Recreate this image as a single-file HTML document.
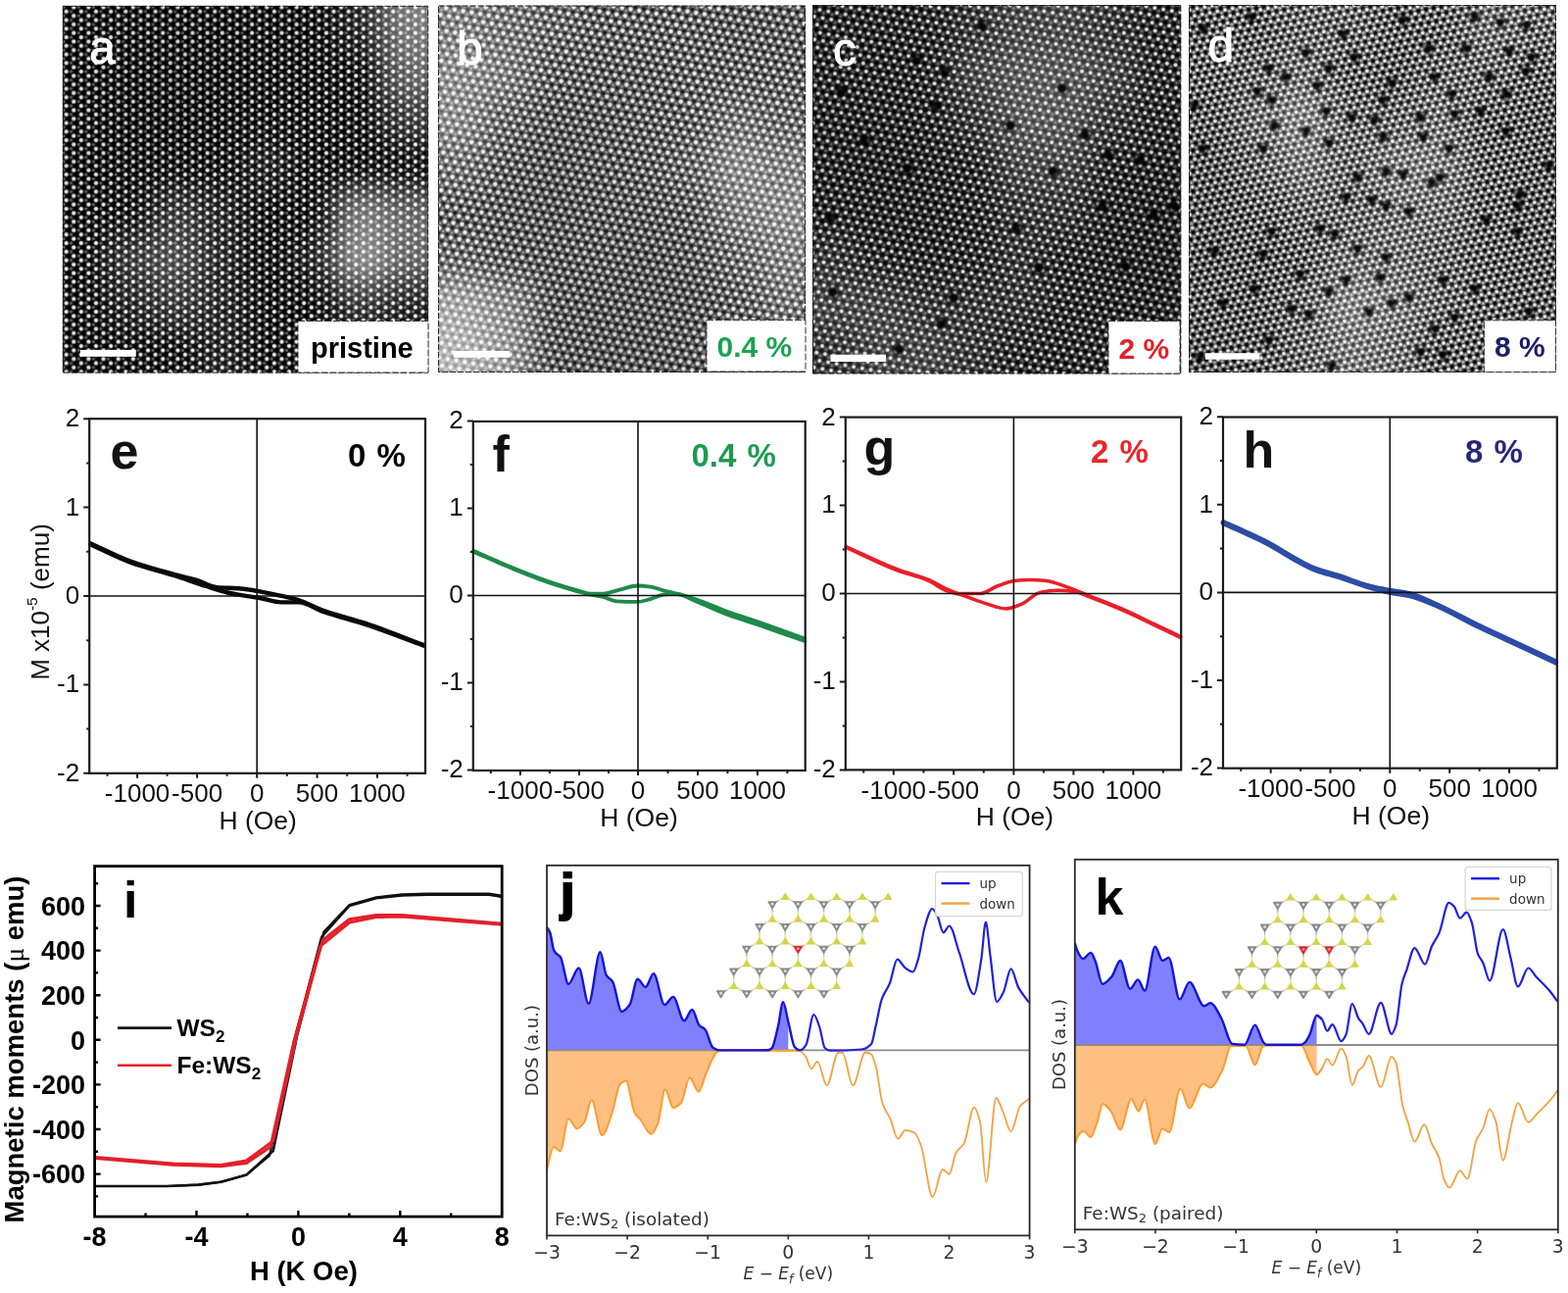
<!DOCTYPE html><html><head><meta charset="utf-8"><title>Fe:WS2 figure</title><style>html,body{margin:0;padding:0;background:#fff;overflow:hidden}svg{display:block}</style></head><body><svg width="1600" height="1319" viewBox="0 0 1600 1319"><defs><radialGradient id="gwa"><stop offset="0" stop-color="#ffffff"/><stop offset="0.45" stop-color="#ffffff" stop-opacity="0.95"/><stop offset="1" stop-color="#ffffff" stop-opacity="0"/></radialGradient><radialGradient id="gsa"><stop offset="0" stop-color="#6a6a6a"/><stop offset="0.4" stop-color="#6a6a6a" stop-opacity="0.9"/><stop offset="1" stop-color="#6a6a6a" stop-opacity="0"/></radialGradient><radialGradient id="gha"><stop offset="0" stop-color="#000"/><stop offset="0.5" stop-color="#000" stop-opacity="0.9"/><stop offset="1" stop-color="#000" stop-opacity="0"/></radialGradient><pattern id="lata" patternUnits="userSpaceOnUse" width="8.75" height="15.16" patternTransform="translate(7,3) rotate(90)"><rect width="8.75" height="15.16" fill="#0a0a0a"/><circle cx="0" cy="5.05" r="2.6" fill="url(#gha)"/><circle cx="8.75" cy="5.05" r="2.6" fill="url(#gha)"/><circle cx="4.38" cy="-2.53" r="2.6" fill="url(#gha)"/><circle cx="4.38" cy="12.63" r="2.6" fill="url(#gha)"/><circle cx="4.38" cy="2.53" r="2.2" fill="url(#gsa)"/><circle cx="0" cy="10.1" r="2.2" fill="url(#gsa)"/><circle cx="8.75" cy="10.1" r="2.2" fill="url(#gsa)"/><circle cx="0" cy="0" r="2.85" fill="url(#gwa)"/><circle cx="0" cy="15.16" r="2.85" fill="url(#gwa)"/><circle cx="8.75" cy="0" r="2.85" fill="url(#gwa)"/><circle cx="8.75" cy="15.16" r="2.85" fill="url(#gwa)"/><circle cx="4.38" cy="7.58" r="2.85" fill="url(#gwa)"/></pattern><clipPath id="clipa"><rect x="63.8" y="5.8" width="373.4" height="374.8"/></clipPath><radialGradient id="gwb"><stop offset="0" stop-color="#f8f8f8"/><stop offset="0.45" stop-color="#f8f8f8" stop-opacity="0.95"/><stop offset="1" stop-color="#f8f8f8" stop-opacity="0"/></radialGradient><radialGradient id="gsb"><stop offset="0" stop-color="#9a9a9a"/><stop offset="0.4" stop-color="#9a9a9a" stop-opacity="0.9"/><stop offset="1" stop-color="#9a9a9a" stop-opacity="0"/></radialGradient><radialGradient id="ghb"><stop offset="0" stop-color="#141414"/><stop offset="0.5" stop-color="#141414" stop-opacity="0.9"/><stop offset="1" stop-color="#141414" stop-opacity="0"/></radialGradient><pattern id="latb" patternUnits="userSpaceOnUse" width="8.85" height="15.33" patternTransform="translate(3,1) rotate(9.7)"><rect width="8.85" height="15.33" fill="#4c4c4c"/><circle cx="0" cy="5.11" r="2.4" fill="url(#ghb)"/><circle cx="8.85" cy="5.11" r="2.4" fill="url(#ghb)"/><circle cx="4.42" cy="12.77" r="2.4" fill="url(#ghb)"/><circle cx="4.42" cy="2.55" r="2.2" fill="url(#gsb)"/><circle cx="0" cy="10.22" r="2.2" fill="url(#gsb)"/><circle cx="8.85" cy="10.22" r="2.2" fill="url(#gsb)"/><circle cx="0" cy="0" r="3.1" fill="url(#gwb)"/><circle cx="0" cy="15.33" r="3.1" fill="url(#gwb)"/><circle cx="8.85" cy="0" r="3.1" fill="url(#gwb)"/><circle cx="8.85" cy="15.33" r="3.1" fill="url(#gwb)"/><circle cx="4.42" cy="7.66" r="3.1" fill="url(#gwb)"/></pattern><clipPath id="clipb"><rect x="447" y="5.5" width="375" height="374.5"/></clipPath><radialGradient id="gwc"><stop offset="0" stop-color="#f0f0f0"/><stop offset="0.45" stop-color="#f0f0f0" stop-opacity="0.95"/><stop offset="1" stop-color="#f0f0f0" stop-opacity="0"/></radialGradient><radialGradient id="gsc"><stop offset="0" stop-color="#6e6e6e"/><stop offset="0.4" stop-color="#6e6e6e" stop-opacity="0.9"/><stop offset="1" stop-color="#6e6e6e" stop-opacity="0"/></radialGradient><radialGradient id="ghc"><stop offset="0" stop-color="#000"/><stop offset="0.5" stop-color="#000" stop-opacity="0.9"/><stop offset="1" stop-color="#000" stop-opacity="0"/></radialGradient><pattern id="latc" patternUnits="userSpaceOnUse" width="8.85" height="15.33" patternTransform="translate(2,3) rotate(10)"><rect width="8.85" height="15.33" fill="#2e2e2e"/><circle cx="0" cy="5.11" r="3.1" fill="url(#ghc)"/><circle cx="8.85" cy="5.11" r="3.1" fill="url(#ghc)"/><circle cx="4.42" cy="-2.55" r="3.1" fill="url(#ghc)"/><circle cx="4.42" cy="12.77" r="3.1" fill="url(#ghc)"/><circle cx="4.42" cy="2.55" r="2" fill="url(#gsc)"/><circle cx="0" cy="10.22" r="2" fill="url(#gsc)"/><circle cx="8.85" cy="10.22" r="2" fill="url(#gsc)"/><circle cx="0" cy="0" r="2.6" fill="url(#gwc)"/><circle cx="0" cy="15.33" r="2.6" fill="url(#gwc)"/><circle cx="8.85" cy="0" r="2.6" fill="url(#gwc)"/><circle cx="8.85" cy="15.33" r="2.6" fill="url(#gwc)"/><circle cx="4.42" cy="7.66" r="2.6" fill="url(#gwc)"/></pattern><clipPath id="clipc"><rect x="829" y="5" width="376.3" height="376.5"/></clipPath><radialGradient id="gwd"><stop offset="0" stop-color="#ffffff"/><stop offset="0.45" stop-color="#ffffff" stop-opacity="0.95"/><stop offset="1" stop-color="#ffffff" stop-opacity="0"/></radialGradient><radialGradient id="gsd"><stop offset="0" stop-color="#bcbcbc"/><stop offset="0.4" stop-color="#bcbcbc" stop-opacity="0.9"/><stop offset="1" stop-color="#bcbcbc" stop-opacity="0"/></radialGradient><radialGradient id="ghd"><stop offset="0" stop-color="#000"/><stop offset="0.5" stop-color="#000" stop-opacity="0.9"/><stop offset="1" stop-color="#000" stop-opacity="0"/></radialGradient><pattern id="latd" patternUnits="userSpaceOnUse" width="7.9" height="13.68" patternTransform="translate(1,2) rotate(-11)"><rect width="7.9" height="13.68" fill="#5a5a5a"/><circle cx="0" cy="4.56" r="2.8" fill="url(#ghd)"/><circle cx="7.9" cy="4.56" r="2.8" fill="url(#ghd)"/><circle cx="3.95" cy="-2.28" r="2.8" fill="url(#ghd)"/><circle cx="3.95" cy="11.4" r="2.8" fill="url(#ghd)"/><circle cx="3.95" cy="2.28" r="2.1" fill="url(#gsd)"/><circle cx="0" cy="9.12" r="2.1" fill="url(#gsd)"/><circle cx="7.9" cy="9.12" r="2.1" fill="url(#gsd)"/><circle cx="0" cy="0" r="2.5" fill="url(#gwd)"/><circle cx="0" cy="13.68" r="2.5" fill="url(#gwd)"/><circle cx="7.9" cy="0" r="2.5" fill="url(#gwd)"/><circle cx="7.9" cy="13.68" r="2.5" fill="url(#gwd)"/><circle cx="3.95" cy="6.84" r="2.5" fill="url(#gwd)"/></pattern><clipPath id="clipd"><rect x="1213" y="5" width="375" height="375"/></clipPath><filter id="bl22" x="-20%" y="-20%" width="140%" height="140%"><feGaussianBlur stdDeviation="15"/></filter><filter id="bl2" x="-50%" y="-50%" width="200%" height="200%"><feGaussianBlur stdDeviation="1.4"/></filter><filter id="bl3" x="-50%" y="-50%" width="200%" height="200%"><feGaussianBlur stdDeviation="2.6"/></filter></defs><rect width="1600" height="1319" fill="#fff"/><g clip-path="url(#clipa)"><rect x="63.8" y="5.8" width="373.4" height="374.8" fill="url(#lata)"/><g fill="#000" filter="url(#bl22)"><rect x="-29.55" y="-87.9" width="47.17" height="47.35" fill-opacity="0.06"/><rect x="17.12" y="-87.9" width="47.17" height="47.35" fill-opacity="0.06"/><rect x="63.8" y="-87.9" width="47.17" height="47.35" fill-opacity="0.06"/><rect x="110.47" y="-87.9" width="47.17" height="47.35" fill-opacity="0.11"/><rect x="157.15" y="-87.9" width="47.17" height="47.35" fill-opacity="0.11"/><rect x="203.82" y="-87.9" width="47.17" height="47.35" fill-opacity="0.11"/><rect x="250.5" y="-87.9" width="47.17" height="47.35" fill-opacity="0.08"/><rect x="297.18" y="-87.9" width="47.17" height="47.35" fill-opacity="0.06"/><rect x="-29.55" y="-41.05" width="47.17" height="47.35" fill-opacity="0.06"/><rect x="17.12" y="-41.05" width="47.17" height="47.35" fill-opacity="0.06"/><rect x="63.8" y="-41.05" width="47.17" height="47.35" fill-opacity="0.06"/><rect x="110.47" y="-41.05" width="47.17" height="47.35" fill-opacity="0.11"/><rect x="157.15" y="-41.05" width="47.17" height="47.35" fill-opacity="0.11"/><rect x="203.82" y="-41.05" width="47.17" height="47.35" fill-opacity="0.11"/><rect x="250.5" y="-41.05" width="47.17" height="47.35" fill-opacity="0.08"/><rect x="297.18" y="-41.05" width="47.17" height="47.35" fill-opacity="0.06"/><rect x="-29.55" y="5.8" width="47.17" height="47.35" fill-opacity="0.06"/><rect x="17.12" y="5.8" width="47.17" height="47.35" fill-opacity="0.06"/><rect x="63.8" y="5.8" width="47.17" height="47.35" fill-opacity="0.06"/><rect x="110.47" y="5.8" width="47.17" height="47.35" fill-opacity="0.11"/><rect x="157.15" y="5.8" width="47.17" height="47.35" fill-opacity="0.11"/><rect x="203.82" y="5.8" width="47.17" height="47.35" fill-opacity="0.11"/><rect x="250.5" y="5.8" width="47.17" height="47.35" fill-opacity="0.08"/><rect x="297.18" y="5.8" width="47.17" height="47.35" fill-opacity="0.06"/><rect x="-29.55" y="52.65" width="47.17" height="47.35" fill-opacity="0.06"/><rect x="17.12" y="52.65" width="47.17" height="47.35" fill-opacity="0.06"/><rect x="63.8" y="52.65" width="47.17" height="47.35" fill-opacity="0.06"/><rect x="110.47" y="52.65" width="47.17" height="47.35" fill-opacity="0.14"/><rect x="157.15" y="52.65" width="47.17" height="47.35" fill-opacity="0.14"/><rect x="203.82" y="52.65" width="47.17" height="47.35" fill-opacity="0.14"/><rect x="250.5" y="52.65" width="47.17" height="47.35" fill-opacity="0.08"/><rect x="297.18" y="52.65" width="47.17" height="47.35" fill-opacity="0.06"/><rect x="-29.55" y="99.5" width="47.17" height="47.35" fill-opacity="0.06"/><rect x="17.12" y="99.5" width="47.17" height="47.35" fill-opacity="0.06"/><rect x="63.8" y="99.5" width="47.17" height="47.35" fill-opacity="0.06"/><rect x="110.47" y="99.5" width="47.17" height="47.35" fill-opacity="0.14"/><rect x="157.15" y="99.5" width="47.17" height="47.35" fill-opacity="0.17"/><rect x="203.82" y="99.5" width="47.17" height="47.35" fill-opacity="0.11"/><rect x="250.5" y="99.5" width="47.17" height="47.35" fill-opacity="0.03"/><rect x="343.85" y="99.5" width="47.17" height="47.35" fill-opacity="0.03"/><rect x="-29.55" y="146.35" width="47.17" height="47.35" fill-opacity="0.08"/><rect x="17.12" y="146.35" width="47.17" height="47.35" fill-opacity="0.08"/><rect x="63.8" y="146.35" width="47.17" height="47.35" fill-opacity="0.08"/><rect x="110.47" y="146.35" width="47.17" height="47.35" fill-opacity="0.11"/><rect x="157.15" y="146.35" width="47.17" height="47.35" fill-opacity="0.08"/><rect x="203.82" y="146.35" width="47.17" height="47.35" fill-opacity="0.03"/><rect x="297.18" y="146.35" width="47.17" height="47.35" fill-opacity="0.03"/><rect x="343.85" y="146.35" width="47.17" height="47.35" fill-opacity="0.06"/><rect x="-29.55" y="193.2" width="47.17" height="47.35" fill-opacity="0.03"/><rect x="17.12" y="193.2" width="47.17" height="47.35" fill-opacity="0.03"/><rect x="63.8" y="193.2" width="47.17" height="47.35" fill-opacity="0.03"/><rect x="250.5" y="193.2" width="47.17" height="47.35" fill-opacity="0.03"/><rect x="250.5" y="240.05" width="47.17" height="47.35" fill-opacity="0.06"/><rect x="-29.55" y="286.9" width="47.17" height="47.35" fill-opacity="0.03"/><rect x="17.12" y="286.9" width="47.17" height="47.35" fill-opacity="0.03"/><rect x="63.8" y="286.9" width="47.17" height="47.35" fill-opacity="0.03"/><rect x="250.5" y="286.9" width="47.17" height="47.35" fill-opacity="0.03"/><rect x="297.18" y="286.9" width="47.17" height="47.35" fill-opacity="0.03"/><rect x="-29.55" y="333.75" width="47.17" height="47.35" fill-opacity="0.06"/><rect x="17.12" y="333.75" width="47.17" height="47.35" fill-opacity="0.06"/><rect x="63.8" y="333.75" width="47.17" height="47.35" fill-opacity="0.06"/><rect x="110.47" y="333.75" width="47.17" height="47.35" fill-opacity="0.03"/><rect x="-29.55" y="380.6" width="47.17" height="47.35" fill-opacity="0.06"/><rect x="17.12" y="380.6" width="47.17" height="47.35" fill-opacity="0.06"/><rect x="63.8" y="380.6" width="47.17" height="47.35" fill-opacity="0.06"/><rect x="110.47" y="380.6" width="47.17" height="47.35" fill-opacity="0.03"/><rect x="-29.55" y="427.45" width="47.17" height="47.35" fill-opacity="0.06"/><rect x="17.12" y="427.45" width="47.17" height="47.35" fill-opacity="0.06"/><rect x="63.8" y="427.45" width="47.17" height="47.35" fill-opacity="0.06"/><rect x="110.47" y="427.45" width="47.17" height="47.35" fill-opacity="0.03"/></g><g fill="#fff" filter="url(#bl22)"><rect x="343.85" y="-87.9" width="47.17" height="47.35" fill-opacity="0.09"/><rect x="390.52" y="-87.9" width="47.17" height="47.35" fill-opacity="0.45"/><rect x="437.2" y="-87.9" width="47.17" height="47.35" fill-opacity="0.45"/><rect x="483.88" y="-87.9" width="47.17" height="47.35" fill-opacity="0.45"/><rect x="343.85" y="-41.05" width="47.17" height="47.35" fill-opacity="0.09"/><rect x="390.52" y="-41.05" width="47.17" height="47.35" fill-opacity="0.45"/><rect x="437.2" y="-41.05" width="47.17" height="47.35" fill-opacity="0.45"/><rect x="483.88" y="-41.05" width="47.17" height="47.35" fill-opacity="0.45"/><rect x="343.85" y="5.8" width="47.17" height="47.35" fill-opacity="0.09"/><rect x="390.52" y="5.8" width="47.17" height="47.35" fill-opacity="0.45"/><rect x="437.2" y="5.8" width="47.17" height="47.35" fill-opacity="0.45"/><rect x="483.88" y="5.8" width="47.17" height="47.35" fill-opacity="0.45"/><rect x="390.52" y="52.65" width="47.17" height="47.35" fill-opacity="0.36"/><rect x="437.2" y="52.65" width="47.17" height="47.35" fill-opacity="0.36"/><rect x="483.88" y="52.65" width="47.17" height="47.35" fill-opacity="0.36"/><rect x="390.52" y="99.5" width="47.17" height="47.35" fill-opacity="0.18"/><rect x="437.2" y="99.5" width="47.17" height="47.35" fill-opacity="0.18"/><rect x="483.88" y="99.5" width="47.17" height="47.35" fill-opacity="0.18"/><rect x="250.5" y="146.35" width="47.17" height="47.35" fill-opacity="0.09"/><rect x="157.15" y="193.2" width="47.17" height="47.35" fill-opacity="0.18"/><rect x="203.82" y="193.2" width="47.17" height="47.35" fill-opacity="0.09"/><rect x="343.85" y="193.2" width="47.17" height="47.35" fill-opacity="0.45"/><rect x="390.52" y="193.2" width="47.17" height="47.35" fill-opacity="0.36"/><rect x="437.2" y="193.2" width="47.17" height="47.35" fill-opacity="0.36"/><rect x="483.88" y="193.2" width="47.17" height="47.35" fill-opacity="0.36"/><rect x="110.47" y="240.05" width="47.17" height="47.35" fill-opacity="0.18"/><rect x="157.15" y="240.05" width="47.17" height="47.35" fill-opacity="0.27"/><rect x="203.82" y="240.05" width="47.17" height="47.35" fill-opacity="0.09"/><rect x="297.18" y="240.05" width="47.17" height="47.35" fill-opacity="0.09"/><rect x="343.85" y="240.05" width="47.17" height="47.35" fill-opacity="0.54"/><rect x="390.52" y="240.05" width="47.17" height="47.35" fill-opacity="0.36"/><rect x="437.2" y="240.05" width="47.17" height="47.35" fill-opacity="0.36"/><rect x="483.88" y="240.05" width="47.17" height="47.35" fill-opacity="0.36"/><rect x="110.47" y="286.9" width="47.17" height="47.35" fill-opacity="0.09"/><rect x="157.15" y="286.9" width="47.17" height="47.35" fill-opacity="0.18"/><rect x="203.82" y="286.9" width="47.17" height="47.35" fill-opacity="0.09"/><rect x="343.85" y="286.9" width="47.17" height="47.35" fill-opacity="0.18"/><rect x="390.52" y="286.9" width="47.17" height="47.35" fill-opacity="0.09"/><rect x="437.2" y="286.9" width="47.17" height="47.35" fill-opacity="0.09"/><rect x="483.88" y="286.9" width="47.17" height="47.35" fill-opacity="0.09"/><rect x="203.82" y="333.75" width="47.17" height="47.35" fill-opacity="0.09"/><rect x="203.82" y="380.6" width="47.17" height="47.35" fill-opacity="0.09"/><rect x="203.82" y="427.45" width="47.17" height="47.35" fill-opacity="0.09"/></g></g><rect x="64.3" y="6.3" width="372.4" height="373.8" fill="none" stroke="#222" stroke-width="1" stroke-dasharray="6 2"/><g clip-path="url(#clipb)"><rect x="447" y="5.5" width="375" height="374.5" fill="url(#latb)"/><g fill="#000" filter="url(#bl22)"><rect x="728.25" y="-88.12" width="47.38" height="47.31" fill-opacity="0.04"/><rect x="775.12" y="-88.12" width="47.38" height="47.31" fill-opacity="0.04"/><rect x="822" y="-88.12" width="47.38" height="47.31" fill-opacity="0.04"/><rect x="868.88" y="-88.12" width="47.38" height="47.31" fill-opacity="0.04"/><rect x="728.25" y="-41.31" width="47.38" height="47.31" fill-opacity="0.04"/><rect x="775.12" y="-41.31" width="47.38" height="47.31" fill-opacity="0.04"/><rect x="822" y="-41.31" width="47.38" height="47.31" fill-opacity="0.04"/><rect x="868.88" y="-41.31" width="47.38" height="47.31" fill-opacity="0.04"/><rect x="728.25" y="5.5" width="47.38" height="47.31" fill-opacity="0.04"/><rect x="775.12" y="5.5" width="47.38" height="47.31" fill-opacity="0.04"/><rect x="822" y="5.5" width="47.38" height="47.31" fill-opacity="0.04"/><rect x="868.88" y="5.5" width="47.38" height="47.31" fill-opacity="0.04"/><rect x="587.62" y="52.31" width="47.38" height="47.31" fill-opacity="0.04"/><rect x="634.5" y="52.31" width="47.38" height="47.31" fill-opacity="0.04"/><rect x="540.75" y="99.12" width="47.38" height="47.31" fill-opacity="0.08"/><rect x="587.62" y="99.12" width="47.38" height="47.31" fill-opacity="0.08"/><rect x="634.5" y="99.12" width="47.38" height="47.31" fill-opacity="0.04"/><rect x="493.88" y="145.94" width="47.38" height="47.31" fill-opacity="0.04"/><rect x="540.75" y="145.94" width="47.38" height="47.31" fill-opacity="0.12"/><rect x="587.62" y="145.94" width="47.38" height="47.31" fill-opacity="0.08"/><rect x="634.5" y="145.94" width="47.38" height="47.31" fill-opacity="0.04"/><rect x="493.88" y="192.75" width="47.38" height="47.31" fill-opacity="0.08"/><rect x="540.75" y="192.75" width="47.38" height="47.31" fill-opacity="0.12"/><rect x="587.62" y="192.75" width="47.38" height="47.31" fill-opacity="0.08"/><rect x="634.5" y="192.75" width="47.38" height="47.31" fill-opacity="0.08"/><rect x="681.38" y="192.75" width="47.38" height="47.31" fill-opacity="0.04"/><rect x="493.88" y="239.56" width="47.38" height="47.31" fill-opacity="0.04"/><rect x="540.75" y="239.56" width="47.38" height="47.31" fill-opacity="0.08"/><rect x="587.62" y="239.56" width="47.38" height="47.31" fill-opacity="0.08"/><rect x="634.5" y="239.56" width="47.38" height="47.31" fill-opacity="0.12"/><rect x="681.38" y="239.56" width="47.38" height="47.31" fill-opacity="0.08"/><rect x="540.75" y="286.38" width="47.38" height="47.31" fill-opacity="0.08"/><rect x="587.62" y="286.38" width="47.38" height="47.31" fill-opacity="0.12"/><rect x="634.5" y="286.38" width="47.38" height="47.31" fill-opacity="0.12"/><rect x="681.38" y="286.38" width="47.38" height="47.31" fill-opacity="0.12"/><rect x="540.75" y="333.19" width="47.38" height="47.31" fill-opacity="0.08"/><rect x="587.62" y="333.19" width="47.38" height="47.31" fill-opacity="0.12"/><rect x="634.5" y="333.19" width="47.38" height="47.31" fill-opacity="0.12"/><rect x="681.38" y="333.19" width="47.38" height="47.31" fill-opacity="0.08"/><rect x="540.75" y="380" width="47.38" height="47.31" fill-opacity="0.08"/><rect x="587.62" y="380" width="47.38" height="47.31" fill-opacity="0.12"/><rect x="634.5" y="380" width="47.38" height="47.31" fill-opacity="0.12"/><rect x="681.38" y="380" width="47.38" height="47.31" fill-opacity="0.08"/><rect x="540.75" y="426.81" width="47.38" height="47.31" fill-opacity="0.08"/><rect x="587.62" y="426.81" width="47.38" height="47.31" fill-opacity="0.12"/><rect x="634.5" y="426.81" width="47.38" height="47.31" fill-opacity="0.12"/><rect x="681.38" y="426.81" width="47.38" height="47.31" fill-opacity="0.08"/></g><g fill="#fff" filter="url(#bl22)"><rect x="353.25" y="-88.12" width="47.38" height="47.31" fill-opacity="0.24"/><rect x="400.12" y="-88.12" width="47.38" height="47.31" fill-opacity="0.24"/><rect x="447" y="-88.12" width="47.38" height="47.31" fill-opacity="0.24"/><rect x="493.88" y="-88.12" width="47.38" height="47.31" fill-opacity="0.16"/><rect x="540.75" y="-88.12" width="47.38" height="47.31" fill-opacity="0.08"/><rect x="353.25" y="-41.31" width="47.38" height="47.31" fill-opacity="0.24"/><rect x="400.12" y="-41.31" width="47.38" height="47.31" fill-opacity="0.24"/><rect x="447" y="-41.31" width="47.38" height="47.31" fill-opacity="0.24"/><rect x="493.88" y="-41.31" width="47.38" height="47.31" fill-opacity="0.16"/><rect x="540.75" y="-41.31" width="47.38" height="47.31" fill-opacity="0.08"/><rect x="353.25" y="5.5" width="47.38" height="47.31" fill-opacity="0.24"/><rect x="400.12" y="5.5" width="47.38" height="47.31" fill-opacity="0.24"/><rect x="447" y="5.5" width="47.38" height="47.31" fill-opacity="0.24"/><rect x="493.88" y="5.5" width="47.38" height="47.31" fill-opacity="0.16"/><rect x="540.75" y="5.5" width="47.38" height="47.31" fill-opacity="0.08"/><rect x="353.25" y="52.31" width="47.38" height="47.31" fill-opacity="0.32"/><rect x="400.12" y="52.31" width="47.38" height="47.31" fill-opacity="0.32"/><rect x="447" y="52.31" width="47.38" height="47.31" fill-opacity="0.32"/><rect x="493.88" y="52.31" width="47.38" height="47.31" fill-opacity="0.24"/><rect x="353.25" y="99.12" width="47.38" height="47.31" fill-opacity="0.32"/><rect x="400.12" y="99.12" width="47.38" height="47.31" fill-opacity="0.32"/><rect x="447" y="99.12" width="47.38" height="47.31" fill-opacity="0.32"/><rect x="493.88" y="99.12" width="47.38" height="47.31" fill-opacity="0.08"/><rect x="728.25" y="99.12" width="47.38" height="47.31" fill-opacity="0.16"/><rect x="775.12" y="99.12" width="47.38" height="47.31" fill-opacity="0.08"/><rect x="822" y="99.12" width="47.38" height="47.31" fill-opacity="0.08"/><rect x="868.88" y="99.12" width="47.38" height="47.31" fill-opacity="0.08"/><rect x="353.25" y="145.94" width="47.38" height="47.31" fill-opacity="0.16"/><rect x="400.12" y="145.94" width="47.38" height="47.31" fill-opacity="0.16"/><rect x="447" y="145.94" width="47.38" height="47.31" fill-opacity="0.16"/><rect x="681.38" y="145.94" width="47.38" height="47.31" fill-opacity="0.08"/><rect x="728.25" y="145.94" width="47.38" height="47.31" fill-opacity="0.32"/><rect x="775.12" y="145.94" width="47.38" height="47.31" fill-opacity="0.24"/><rect x="822" y="145.94" width="47.38" height="47.31" fill-opacity="0.24"/><rect x="868.88" y="145.94" width="47.38" height="47.31" fill-opacity="0.24"/><rect x="728.25" y="192.75" width="47.38" height="47.31" fill-opacity="0.24"/><rect x="775.12" y="192.75" width="47.38" height="47.31" fill-opacity="0.32"/><rect x="822" y="192.75" width="47.38" height="47.31" fill-opacity="0.32"/><rect x="868.88" y="192.75" width="47.38" height="47.31" fill-opacity="0.32"/><rect x="353.25" y="239.56" width="47.38" height="47.31" fill-opacity="0.08"/><rect x="400.12" y="239.56" width="47.38" height="47.31" fill-opacity="0.08"/><rect x="447" y="239.56" width="47.38" height="47.31" fill-opacity="0.08"/><rect x="728.25" y="239.56" width="47.38" height="47.31" fill-opacity="0.08"/><rect x="775.12" y="239.56" width="47.38" height="47.31" fill-opacity="0.24"/><rect x="822" y="239.56" width="47.38" height="47.31" fill-opacity="0.24"/><rect x="868.88" y="239.56" width="47.38" height="47.31" fill-opacity="0.24"/><rect x="353.25" y="286.38" width="47.38" height="47.31" fill-opacity="0.48"/><rect x="400.12" y="286.38" width="47.38" height="47.31" fill-opacity="0.48"/><rect x="447" y="286.38" width="47.38" height="47.31" fill-opacity="0.48"/><rect x="493.88" y="286.38" width="47.38" height="47.31" fill-opacity="0.32"/><rect x="775.12" y="286.38" width="47.38" height="47.31" fill-opacity="0.16"/><rect x="822" y="286.38" width="47.38" height="47.31" fill-opacity="0.16"/><rect x="868.88" y="286.38" width="47.38" height="47.31" fill-opacity="0.16"/><rect x="353.25" y="333.19" width="47.38" height="47.31" fill-opacity="0.56"/><rect x="400.12" y="333.19" width="47.38" height="47.31" fill-opacity="0.56"/><rect x="447" y="333.19" width="47.38" height="47.31" fill-opacity="0.56"/><rect x="493.88" y="333.19" width="47.38" height="47.31" fill-opacity="0.4"/><rect x="353.25" y="380" width="47.38" height="47.31" fill-opacity="0.56"/><rect x="400.12" y="380" width="47.38" height="47.31" fill-opacity="0.56"/><rect x="447" y="380" width="47.38" height="47.31" fill-opacity="0.56"/><rect x="493.88" y="380" width="47.38" height="47.31" fill-opacity="0.4"/><rect x="353.25" y="426.81" width="47.38" height="47.31" fill-opacity="0.56"/><rect x="400.12" y="426.81" width="47.38" height="47.31" fill-opacity="0.56"/><rect x="447" y="426.81" width="47.38" height="47.31" fill-opacity="0.56"/><rect x="493.88" y="426.81" width="47.38" height="47.31" fill-opacity="0.4"/></g></g><rect x="447.5" y="6" width="374" height="373.5" fill="none" stroke="#222" stroke-width="1" stroke-dasharray="6 2"/><g clip-path="url(#clipc)"><rect x="829" y="5" width="376.3" height="376.5" fill="url(#latc)"/><g fill="#000" filter="url(#bl22)"><rect x="734.92" y="-89.12" width="47.54" height="47.56" fill-opacity="0.05"/><rect x="781.96" y="-89.12" width="47.54" height="47.56" fill-opacity="0.05"/><rect x="829" y="-89.12" width="47.54" height="47.56" fill-opacity="0.05"/><rect x="876.04" y="-89.12" width="47.54" height="47.56" fill-opacity="0.05"/><rect x="734.92" y="-42.06" width="47.54" height="47.56" fill-opacity="0.05"/><rect x="781.96" y="-42.06" width="47.54" height="47.56" fill-opacity="0.05"/><rect x="829" y="-42.06" width="47.54" height="47.56" fill-opacity="0.05"/><rect x="876.04" y="-42.06" width="47.54" height="47.56" fill-opacity="0.05"/><rect x="734.92" y="5" width="47.54" height="47.56" fill-opacity="0.05"/><rect x="781.96" y="5" width="47.54" height="47.56" fill-opacity="0.05"/><rect x="829" y="5" width="47.54" height="47.56" fill-opacity="0.05"/><rect x="876.04" y="5" width="47.54" height="47.56" fill-opacity="0.05"/><rect x="734.92" y="52.06" width="47.54" height="47.56" fill-opacity="0.05"/><rect x="781.96" y="52.06" width="47.54" height="47.56" fill-opacity="0.05"/><rect x="829" y="52.06" width="47.54" height="47.56" fill-opacity="0.05"/><rect x="876.04" y="52.06" width="47.54" height="47.56" fill-opacity="0.05"/><rect x="734.92" y="99.12" width="47.54" height="47.56" fill-opacity="0.1"/><rect x="781.96" y="99.12" width="47.54" height="47.56" fill-opacity="0.1"/><rect x="829" y="99.12" width="47.54" height="47.56" fill-opacity="0.1"/><rect x="876.04" y="99.12" width="47.54" height="47.56" fill-opacity="0.1"/><rect x="923.08" y="99.12" width="47.54" height="47.56" fill-opacity="0.05"/><rect x="734.92" y="146.19" width="47.54" height="47.56" fill-opacity="0.1"/><rect x="781.96" y="146.19" width="47.54" height="47.56" fill-opacity="0.1"/><rect x="829" y="146.19" width="47.54" height="47.56" fill-opacity="0.1"/><rect x="876.04" y="146.19" width="47.54" height="47.56" fill-opacity="0.15"/><rect x="923.08" y="146.19" width="47.54" height="47.56" fill-opacity="0.1"/><rect x="1158.26" y="146.19" width="47.54" height="47.56" fill-opacity="0.1"/><rect x="1205.3" y="146.19" width="47.54" height="47.56" fill-opacity="0.1"/><rect x="1252.34" y="146.19" width="47.54" height="47.56" fill-opacity="0.1"/><rect x="734.92" y="193.25" width="47.54" height="47.56" fill-opacity="0.05"/><rect x="781.96" y="193.25" width="47.54" height="47.56" fill-opacity="0.05"/><rect x="829" y="193.25" width="47.54" height="47.56" fill-opacity="0.05"/><rect x="876.04" y="193.25" width="47.54" height="47.56" fill-opacity="0.1"/><rect x="923.08" y="193.25" width="47.54" height="47.56" fill-opacity="0.1"/><rect x="1111.22" y="193.25" width="47.54" height="47.56" fill-opacity="0.1"/><rect x="1158.26" y="193.25" width="47.54" height="47.56" fill-opacity="0.15"/><rect x="1205.3" y="193.25" width="47.54" height="47.56" fill-opacity="0.15"/><rect x="1252.34" y="193.25" width="47.54" height="47.56" fill-opacity="0.15"/><rect x="923.08" y="240.31" width="47.54" height="47.56" fill-opacity="0.05"/><rect x="1111.22" y="240.31" width="47.54" height="47.56" fill-opacity="0.1"/><rect x="1158.26" y="240.31" width="47.54" height="47.56" fill-opacity="0.15"/><rect x="1205.3" y="240.31" width="47.54" height="47.56" fill-opacity="0.15"/><rect x="1252.34" y="240.31" width="47.54" height="47.56" fill-opacity="0.15"/><rect x="1111.22" y="287.38" width="47.54" height="47.56" fill-opacity="0.05"/><rect x="1158.26" y="287.38" width="47.54" height="47.56" fill-opacity="0.1"/><rect x="1205.3" y="287.38" width="47.54" height="47.56" fill-opacity="0.1"/><rect x="1252.34" y="287.38" width="47.54" height="47.56" fill-opacity="0.1"/></g><g fill="#fff" filter="url(#bl22)"><rect x="970.11" y="-89.12" width="47.54" height="47.56" fill-opacity="0.08"/><rect x="1017.15" y="-89.12" width="47.54" height="47.56" fill-opacity="0.16"/><rect x="1064.19" y="-89.12" width="47.54" height="47.56" fill-opacity="0.16"/><rect x="1111.22" y="-89.12" width="47.54" height="47.56" fill-opacity="0.08"/><rect x="970.11" y="-42.06" width="47.54" height="47.56" fill-opacity="0.08"/><rect x="1017.15" y="-42.06" width="47.54" height="47.56" fill-opacity="0.16"/><rect x="1064.19" y="-42.06" width="47.54" height="47.56" fill-opacity="0.16"/><rect x="1111.22" y="-42.06" width="47.54" height="47.56" fill-opacity="0.08"/><rect x="970.11" y="5" width="47.54" height="47.56" fill-opacity="0.08"/><rect x="1017.15" y="5" width="47.54" height="47.56" fill-opacity="0.16"/><rect x="1064.19" y="5" width="47.54" height="47.56" fill-opacity="0.16"/><rect x="1111.22" y="5" width="47.54" height="47.56" fill-opacity="0.08"/><rect x="970.11" y="52.06" width="47.54" height="47.56" fill-opacity="0.16"/><rect x="1017.15" y="52.06" width="47.54" height="47.56" fill-opacity="0.24"/><rect x="1064.19" y="52.06" width="47.54" height="47.56" fill-opacity="0.24"/><rect x="1111.22" y="52.06" width="47.54" height="47.56" fill-opacity="0.16"/><rect x="970.11" y="99.12" width="47.54" height="47.56" fill-opacity="0.08"/><rect x="1017.15" y="99.12" width="47.54" height="47.56" fill-opacity="0.24"/><rect x="1064.19" y="99.12" width="47.54" height="47.56" fill-opacity="0.24"/><rect x="1111.22" y="99.12" width="47.54" height="47.56" fill-opacity="0.08"/><rect x="1017.15" y="146.19" width="47.54" height="47.56" fill-opacity="0.16"/><rect x="1064.19" y="146.19" width="47.54" height="47.56" fill-opacity="0.16"/><rect x="1017.15" y="193.25" width="47.54" height="47.56" fill-opacity="0.08"/><rect x="1064.19" y="193.25" width="47.54" height="47.56" fill-opacity="0.08"/><rect x="734.92" y="240.31" width="47.54" height="47.56" fill-opacity="0.08"/><rect x="781.96" y="240.31" width="47.54" height="47.56" fill-opacity="0.08"/><rect x="829" y="240.31" width="47.54" height="47.56" fill-opacity="0.08"/><rect x="1017.15" y="240.31" width="47.54" height="47.56" fill-opacity="0.08"/><rect x="734.92" y="287.38" width="47.54" height="47.56" fill-opacity="0.16"/><rect x="781.96" y="287.38" width="47.54" height="47.56" fill-opacity="0.16"/><rect x="829" y="287.38" width="47.54" height="47.56" fill-opacity="0.16"/><rect x="876.04" y="287.38" width="47.54" height="47.56" fill-opacity="0.16"/><rect x="923.08" y="287.38" width="47.54" height="47.56" fill-opacity="0.08"/><rect x="970.11" y="287.38" width="47.54" height="47.56" fill-opacity="0.08"/><rect x="1017.15" y="287.38" width="47.54" height="47.56" fill-opacity="0.08"/><rect x="734.92" y="334.44" width="47.54" height="47.56" fill-opacity="0.08"/><rect x="781.96" y="334.44" width="47.54" height="47.56" fill-opacity="0.08"/><rect x="829" y="334.44" width="47.54" height="47.56" fill-opacity="0.08"/><rect x="876.04" y="334.44" width="47.54" height="47.56" fill-opacity="0.16"/><rect x="923.08" y="334.44" width="47.54" height="47.56" fill-opacity="0.16"/><rect x="970.11" y="334.44" width="47.54" height="47.56" fill-opacity="0.08"/><rect x="734.92" y="381.5" width="47.54" height="47.56" fill-opacity="0.08"/><rect x="781.96" y="381.5" width="47.54" height="47.56" fill-opacity="0.08"/><rect x="829" y="381.5" width="47.54" height="47.56" fill-opacity="0.08"/><rect x="876.04" y="381.5" width="47.54" height="47.56" fill-opacity="0.16"/><rect x="923.08" y="381.5" width="47.54" height="47.56" fill-opacity="0.16"/><rect x="970.11" y="381.5" width="47.54" height="47.56" fill-opacity="0.08"/><rect x="734.92" y="428.56" width="47.54" height="47.56" fill-opacity="0.08"/><rect x="781.96" y="428.56" width="47.54" height="47.56" fill-opacity="0.08"/><rect x="829" y="428.56" width="47.54" height="47.56" fill-opacity="0.08"/><rect x="876.04" y="428.56" width="47.54" height="47.56" fill-opacity="0.16"/><rect x="923.08" y="428.56" width="47.54" height="47.56" fill-opacity="0.16"/><rect x="970.11" y="428.56" width="47.54" height="47.56" fill-opacity="0.08"/></g><g fill="#000" fill-opacity="0.92" filter="url(#bl2)"><circle cx="1002" cy="26" r="5.2"/><circle cx="964" cy="73" r="5.2"/><circle cx="935" cy="61" r="5.2"/><circle cx="859" cy="93" r="5.2"/><circle cx="955" cy="108" r="5.2"/><circle cx="882" cy="143" r="5.2"/><circle cx="1031" cy="128" r="5.2"/><circle cx="1084" cy="90" r="5.2"/><circle cx="1107" cy="137" r="5.2"/><circle cx="1131" cy="158" r="5.2"/><circle cx="1163" cy="163" r="5.2"/><circle cx="1075" cy="175" r="5.2"/><circle cx="926" cy="172" r="5.2"/><circle cx="847" cy="222" r="5.2"/><circle cx="1037" cy="233" r="5.2"/><circle cx="1060" cy="273" r="5.2"/><circle cx="1125" cy="210" r="5.2"/><circle cx="1177" cy="219" r="5.2"/><circle cx="1148" cy="271" r="5.2"/><circle cx="973" cy="304" r="5.2"/><circle cx="961" cy="330" r="5.2"/><circle cx="850" cy="298" r="5.2"/><circle cx="917" cy="356" r="5.2"/><circle cx="1198" cy="210" r="5.2"/></g></g><rect x="829.5" y="5.5" width="375.3" height="375.5" fill="none" stroke="#222" stroke-width="1" stroke-dasharray="6 2"/><g clip-path="url(#clipd)"><rect x="1213" y="5" width="375" height="375" fill="url(#latd)"/><g fill="#000" filter="url(#bl22)"><rect x="1119.25" y="-88.75" width="47.38" height="47.38" fill-opacity="0.04"/><rect x="1166.12" y="-88.75" width="47.38" height="47.38" fill-opacity="0.04"/><rect x="1213" y="-88.75" width="47.38" height="47.38" fill-opacity="0.04"/><rect x="1119.25" y="-41.88" width="47.38" height="47.38" fill-opacity="0.04"/><rect x="1166.12" y="-41.88" width="47.38" height="47.38" fill-opacity="0.04"/><rect x="1213" y="-41.88" width="47.38" height="47.38" fill-opacity="0.04"/><rect x="1119.25" y="5" width="47.38" height="47.38" fill-opacity="0.04"/><rect x="1166.12" y="5" width="47.38" height="47.38" fill-opacity="0.04"/><rect x="1213" y="5" width="47.38" height="47.38" fill-opacity="0.04"/><rect x="1400.5" y="51.88" width="47.38" height="47.38" fill-opacity="0.04"/><rect x="1119.25" y="98.75" width="47.38" height="47.38" fill-opacity="0.04"/><rect x="1166.12" y="98.75" width="47.38" height="47.38" fill-opacity="0.04"/><rect x="1213" y="98.75" width="47.38" height="47.38" fill-opacity="0.04"/><rect x="1541.12" y="98.75" width="47.38" height="47.38" fill-opacity="0.04"/><rect x="1588" y="98.75" width="47.38" height="47.38" fill-opacity="0.04"/><rect x="1634.88" y="98.75" width="47.38" height="47.38" fill-opacity="0.04"/><rect x="1119.25" y="145.62" width="47.38" height="47.38" fill-opacity="0.08"/><rect x="1166.12" y="145.62" width="47.38" height="47.38" fill-opacity="0.08"/><rect x="1213" y="145.62" width="47.38" height="47.38" fill-opacity="0.08"/><rect x="1541.12" y="145.62" width="47.38" height="47.38" fill-opacity="0.04"/><rect x="1588" y="145.62" width="47.38" height="47.38" fill-opacity="0.04"/><rect x="1634.88" y="145.62" width="47.38" height="47.38" fill-opacity="0.04"/><rect x="1119.25" y="192.5" width="47.38" height="47.38" fill-opacity="0.08"/><rect x="1166.12" y="192.5" width="47.38" height="47.38" fill-opacity="0.08"/><rect x="1213" y="192.5" width="47.38" height="47.38" fill-opacity="0.08"/><rect x="1541.12" y="192.5" width="47.38" height="47.38" fill-opacity="0.04"/><rect x="1588" y="192.5" width="47.38" height="47.38" fill-opacity="0.04"/><rect x="1634.88" y="192.5" width="47.38" height="47.38" fill-opacity="0.04"/><rect x="1119.25" y="239.38" width="47.38" height="47.38" fill-opacity="0.08"/><rect x="1166.12" y="239.38" width="47.38" height="47.38" fill-opacity="0.08"/><rect x="1213" y="239.38" width="47.38" height="47.38" fill-opacity="0.08"/><rect x="1259.88" y="239.38" width="47.38" height="47.38" fill-opacity="0.04"/><rect x="1541.12" y="239.38" width="47.38" height="47.38" fill-opacity="0.04"/><rect x="1588" y="239.38" width="47.38" height="47.38" fill-opacity="0.04"/><rect x="1634.88" y="239.38" width="47.38" height="47.38" fill-opacity="0.04"/><rect x="1119.25" y="286.25" width="47.38" height="47.38" fill-opacity="0.04"/><rect x="1166.12" y="286.25" width="47.38" height="47.38" fill-opacity="0.04"/><rect x="1213" y="286.25" width="47.38" height="47.38" fill-opacity="0.04"/><rect x="1259.88" y="286.25" width="47.38" height="47.38" fill-opacity="0.04"/><rect x="1541.12" y="286.25" width="47.38" height="47.38" fill-opacity="0.04"/><rect x="1588" y="286.25" width="47.38" height="47.38" fill-opacity="0.04"/><rect x="1634.88" y="286.25" width="47.38" height="47.38" fill-opacity="0.04"/><rect x="1119.25" y="333.12" width="47.38" height="47.38" fill-opacity="0.08"/><rect x="1166.12" y="333.12" width="47.38" height="47.38" fill-opacity="0.08"/><rect x="1213" y="333.12" width="47.38" height="47.38" fill-opacity="0.08"/><rect x="1259.88" y="333.12" width="47.38" height="47.38" fill-opacity="0.04"/><rect x="1119.25" y="380" width="47.38" height="47.38" fill-opacity="0.08"/><rect x="1166.12" y="380" width="47.38" height="47.38" fill-opacity="0.08"/><rect x="1213" y="380" width="47.38" height="47.38" fill-opacity="0.08"/><rect x="1259.88" y="380" width="47.38" height="47.38" fill-opacity="0.04"/><rect x="1119.25" y="426.88" width="47.38" height="47.38" fill-opacity="0.08"/><rect x="1166.12" y="426.88" width="47.38" height="47.38" fill-opacity="0.08"/><rect x="1213" y="426.88" width="47.38" height="47.38" fill-opacity="0.08"/><rect x="1259.88" y="426.88" width="47.38" height="47.38" fill-opacity="0.04"/></g><g fill="#fff" filter="url(#bl22)"><rect x="1306.75" y="-88.75" width="47.38" height="47.38" fill-opacity="0.08"/><rect x="1353.62" y="-88.75" width="47.38" height="47.38" fill-opacity="0.08"/><rect x="1494.25" y="-88.75" width="47.38" height="47.38" fill-opacity="0.16"/><rect x="1541.12" y="-88.75" width="47.38" height="47.38" fill-opacity="0.08"/><rect x="1588" y="-88.75" width="47.38" height="47.38" fill-opacity="0.08"/><rect x="1634.88" y="-88.75" width="47.38" height="47.38" fill-opacity="0.08"/><rect x="1306.75" y="-41.88" width="47.38" height="47.38" fill-opacity="0.08"/><rect x="1353.62" y="-41.88" width="47.38" height="47.38" fill-opacity="0.08"/><rect x="1494.25" y="-41.88" width="47.38" height="47.38" fill-opacity="0.16"/><rect x="1541.12" y="-41.88" width="47.38" height="47.38" fill-opacity="0.08"/><rect x="1588" y="-41.88" width="47.38" height="47.38" fill-opacity="0.08"/><rect x="1634.88" y="-41.88" width="47.38" height="47.38" fill-opacity="0.08"/><rect x="1306.75" y="5" width="47.38" height="47.38" fill-opacity="0.08"/><rect x="1353.62" y="5" width="47.38" height="47.38" fill-opacity="0.08"/><rect x="1494.25" y="5" width="47.38" height="47.38" fill-opacity="0.16"/><rect x="1541.12" y="5" width="47.38" height="47.38" fill-opacity="0.08"/><rect x="1588" y="5" width="47.38" height="47.38" fill-opacity="0.08"/><rect x="1634.88" y="5" width="47.38" height="47.38" fill-opacity="0.08"/><rect x="1259.88" y="51.88" width="47.38" height="47.38" fill-opacity="0.08"/><rect x="1306.75" y="51.88" width="47.38" height="47.38" fill-opacity="0.16"/><rect x="1447.38" y="51.88" width="47.38" height="47.38" fill-opacity="0.08"/><rect x="1494.25" y="51.88" width="47.38" height="47.38" fill-opacity="0.08"/><rect x="1259.88" y="98.75" width="47.38" height="47.38" fill-opacity="0.16"/><rect x="1306.75" y="98.75" width="47.38" height="47.38" fill-opacity="0.32"/><rect x="1353.62" y="98.75" width="47.38" height="47.38" fill-opacity="0.08"/><rect x="1400.5" y="98.75" width="47.38" height="47.38" fill-opacity="0.08"/><rect x="1447.38" y="98.75" width="47.38" height="47.38" fill-opacity="0.16"/><rect x="1259.88" y="145.62" width="47.38" height="47.38" fill-opacity="0.08"/><rect x="1306.75" y="145.62" width="47.38" height="47.38" fill-opacity="0.24"/><rect x="1353.62" y="145.62" width="47.38" height="47.38" fill-opacity="0.08"/><rect x="1400.5" y="145.62" width="47.38" height="47.38" fill-opacity="0.24"/><rect x="1447.38" y="145.62" width="47.38" height="47.38" fill-opacity="0.24"/><rect x="1306.75" y="192.5" width="47.38" height="47.38" fill-opacity="0.08"/><rect x="1353.62" y="192.5" width="47.38" height="47.38" fill-opacity="0.08"/><rect x="1400.5" y="192.5" width="47.38" height="47.38" fill-opacity="0.16"/><rect x="1447.38" y="192.5" width="47.38" height="47.38" fill-opacity="0.16"/><rect x="1353.62" y="239.38" width="47.38" height="47.38" fill-opacity="0.16"/><rect x="1400.5" y="239.38" width="47.38" height="47.38" fill-opacity="0.16"/><rect x="1447.38" y="239.38" width="47.38" height="47.38" fill-opacity="0.08"/><rect x="1306.75" y="286.25" width="47.38" height="47.38" fill-opacity="0.08"/><rect x="1353.62" y="286.25" width="47.38" height="47.38" fill-opacity="0.32"/><rect x="1400.5" y="286.25" width="47.38" height="47.38" fill-opacity="0.24"/><rect x="1447.38" y="286.25" width="47.38" height="47.38" fill-opacity="0.08"/><rect x="1306.75" y="333.12" width="47.38" height="47.38" fill-opacity="0.08"/><rect x="1353.62" y="333.12" width="47.38" height="47.38" fill-opacity="0.24"/><rect x="1400.5" y="333.12" width="47.38" height="47.38" fill-opacity="0.16"/><rect x="1306.75" y="380" width="47.38" height="47.38" fill-opacity="0.08"/><rect x="1353.62" y="380" width="47.38" height="47.38" fill-opacity="0.24"/><rect x="1400.5" y="380" width="47.38" height="47.38" fill-opacity="0.16"/><rect x="1306.75" y="426.88" width="47.38" height="47.38" fill-opacity="0.08"/><rect x="1353.62" y="426.88" width="47.38" height="47.38" fill-opacity="0.24"/><rect x="1400.5" y="426.88" width="47.38" height="47.38" fill-opacity="0.16"/></g><g fill="#000" fill-opacity="0.95" filter="url(#bl2)"><path d="M1221.01,25.19 h13 l-6.5,11z"/><path d="M1270.63,13.51 h13 l-6.5,11z"/><path d="M1364.04,31.03 h13 l-6.5,11z"/><path d="M1425.33,16.43 h13 l-6.5,11z"/><path d="M1498.3,13.51 h13 l-6.5,11z"/><path d="M1524.57,19.35 h13 l-6.5,11z"/><path d="M1550.84,22.27 h13 l-6.5,11z"/><path d="M1451.6,45.62 h13 l-6.5,11z"/><path d="M1489.55,45.62 h13 l-6.5,11z"/><path d="M1533.33,48.54 h13 l-6.5,11z"/><path d="M1556.68,54.38 h13 l-6.5,11z"/><path d="M1326.09,50 h13 l-6.5,11z"/><path d="M1375.71,54.38 h13 l-6.5,11z"/><path d="M1288.15,66.05 h13 l-6.5,11z"/><path d="M1349.44,66.05 h13 l-6.5,11z"/><path d="M1305.66,74.81 h13 l-6.5,11z"/><path d="M1413.66,80.65 h13 l-6.5,11z"/><path d="M1457.44,74.81 h13 l-6.5,11z"/><path d="M1512.9,74.81 h13 l-6.5,11z"/><path d="M1550.84,68.97 h13 l-6.5,11z"/><path d="M1276.47,89.4 h13 l-6.5,11z"/><path d="M1337.77,83.57 h13 l-6.5,11z"/><path d="M1404.9,98.16 h13 l-6.5,11z"/><path d="M1474.95,92.32 h13 l-6.5,11z"/><path d="M1530.41,92.32 h13 l-6.5,11z"/><path d="M1212.26,104 h13 l-6.5,11z"/><path d="M1291.07,98.16 h13 l-6.5,11z"/><path d="M1346.52,109.84 h13 l-6.5,11z"/><path d="M1372.79,115.67 h13 l-6.5,11z"/><path d="M1396.14,118.59 h13 l-6.5,11z"/><path d="M1442.85,115.67 h13 l-6.5,11z"/><path d="M1477.87,112.75 h13 l-6.5,11z"/><path d="M1504.14,109.84 h13 l-6.5,11z"/><path d="M1293.98,124.43 h13 l-6.5,11z"/><path d="M1326.09,130.27 h13 l-6.5,11z"/><path d="M1404.9,136.11 h13 l-6.5,11z"/><path d="M1445.77,136.11 h13 l-6.5,11z"/><path d="M1530.41,130.27 h13 l-6.5,11z"/><path d="M1282.31,147.78 h13 l-6.5,11z"/><path d="M1349.44,141.94 h13 l-6.5,11z"/><path d="M1472.03,147.78 h13 l-6.5,11z"/><path d="M1221.01,147.78 h13 l-6.5,11z"/><path d="M1574.19,165.29 h13 l-6.5,11z"/><path d="M1407.82,171.13 h13 l-6.5,11z"/><path d="M1425.33,174.05 h13 l-6.5,11z"/><path d="M1378.63,176.97 h13 l-6.5,11z"/><path d="M1454.52,182.81 h13 l-6.5,11z"/><path d="M1463.28,176.97 h13 l-6.5,11z"/><path d="M1366.96,197.4 h13 l-6.5,11z"/><path d="M1393.23,200.32 h13 l-6.5,11z"/><path d="M1407.82,206.16 h13 l-6.5,11z"/><path d="M1545.01,194.48 h13 l-6.5,11z"/><path d="M1542.09,206.16 h13 l-6.5,11z"/><path d="M1340.69,229.51 h13 l-6.5,11z"/><path d="M1355.28,235.35 h13 l-6.5,11z"/><path d="M1431.17,212 h13 l-6.5,11z"/><path d="M1509.98,220.75 h13 l-6.5,11z"/><path d="M1542.09,232.43 h13 l-6.5,11z"/><path d="M1291.07,232.43 h13 l-6.5,11z"/><path d="M1232.69,252.86 h13 l-6.5,11z"/><path d="M1282.31,255.78 h13 l-6.5,11z"/><path d="M1378.63,249.94 h13 l-6.5,11z"/><path d="M1407.82,258.7 h13 l-6.5,11z"/><path d="M1320.25,276.21 h13 l-6.5,11z"/><path d="M1366.96,282.05 h13 l-6.5,11z"/><path d="M1401.98,279.13 h13 l-6.5,11z"/><path d="M1466.2,282.05 h13 l-6.5,11z"/><path d="M1498.3,290.8 h13 l-6.5,11z"/><path d="M1273.55,290.8 h13 l-6.5,11z"/><path d="M1241.45,305.4 h13 l-6.5,11z"/><path d="M1349.44,293.72 h13 l-6.5,11z"/><path d="M1329.01,317.07 h13 l-6.5,11z"/><path d="M1390.31,314.16 h13 l-6.5,11z"/><path d="M1413.66,305.4 h13 l-6.5,11z"/><path d="M1431.17,299.56 h13 l-6.5,11z"/><path d="M1477.87,319.99 h13 l-6.5,11z"/><path d="M1457.44,331.67 h13 l-6.5,11z"/><path d="M1311.5,311.24 h13 l-6.5,11z"/><path d="M1288.15,343.34 h13 l-6.5,11z"/><path d="M1466.2,357.94 h13 l-6.5,11z"/><path d="M1442.85,355.02 h13 l-6.5,11z"/><path d="M1352.36,369.61 h13 l-6.5,11z"/><path d="M1218.09,360.86 h13 l-6.5,11z"/><path d="M1553.76,314.16 h13 l-6.5,11z"/></g></g><rect x="1213.5" y="5.5" width="374" height="374" fill="none" stroke="#222" stroke-width="1" stroke-dasharray="6 2"/><rect x="81.9" y="356.9" width="56.9" height="6.9" fill="#fff"/><rect x="462.9" y="358" width="57.1" height="6.7" fill="#fff"/><rect x="847.4" y="361.7" width="56.6" height="7.3" fill="#fff"/><rect x="1229.9" y="360.2" width="55.4" height="6.5" fill="#fff"/><rect x="304" y="327.5" width="133" height="52.5" fill="#fff" stroke="#333" stroke-width="1" stroke-dasharray="7 2"/><text x="317" y="364.5" font-family="'Liberation Sans', Arial, sans-serif" font-weight="bold" font-size="29" fill="#000">pristine</text><rect x="721" y="326.6" width="101" height="52.4" fill="#fff" stroke="#333" stroke-width="1" stroke-dasharray="7 2"/><text x="731.5" y="363.5" font-family="'Liberation Sans', Arial, sans-serif" font-weight="bold" font-size="30" fill="#1aa352">0.4 %</text><rect x="1131" y="327.6" width="73" height="53.4" fill="#fff" stroke="#333" stroke-width="1" stroke-dasharray="7 2"/><text x="1141.5" y="365.5" font-family="'Liberation Sans', Arial, sans-serif" font-weight="bold" font-size="30" fill="#e3202a">2 %</text><rect x="1514.4" y="326.8" width="73.1" height="52.7" fill="#fff" stroke="#333" stroke-width="1" stroke-dasharray="7 2"/><text x="1525" y="363.5" font-family="'Liberation Sans', Arial, sans-serif" font-weight="bold" font-size="30" fill="#1d1d68">8 %</text><text x="91" y="64.5" font-family="'Liberation Sans', Arial, sans-serif" font-size="48" fill="#fff" stroke="#fff" stroke-width="0.8">a</text><text x="466" y="65.5" font-family="'Liberation Sans', Arial, sans-serif" font-size="48" fill="#fff" stroke="#fff" stroke-width="0.8">b</text><text x="850" y="66.5" font-family="'Liberation Sans', Arial, sans-serif" font-size="48" fill="#fff" stroke="#fff" stroke-width="0.8">c</text><text x="1232.5" y="62.5" font-family="'Liberation Sans', Arial, sans-serif" font-size="48" fill="#fff" stroke="#fff" stroke-width="0.8">d</text><g font-family="'Liberation Sans', Arial, sans-serif" fill="#111"><path d="M92.2,554.2C106.07,560.4 119.93,567.82 133.8,572.8C148.37,578.04 162.93,581.96 177.5,585.9C184.8,587.88 192.1,589.26 199.4,591.4C206.7,593.54 214,598.46 221.3,599.1C228.57,599.74 235.83,599.66 243.1,600.2C250.4,600.75 257.7,602.16 265,603.4C272.3,604.64 279.6,606.16 286.9,607.8C292.73,609.11 298.57,610.4 304.4,612.2C313.13,614.89 321.87,620.01 330.6,623.1C345.2,628.27 359.8,631.44 374.4,636.3C393.73,642.73 413.07,650.83 432.4,658.1" fill="none" stroke="#0a0a0a" stroke-width="4.4" stroke-linejoin="round" stroke-linecap="round"/><path d="M92.2,555.3C106.07,561.5 119.93,568.92 133.8,573.9C148.37,579.14 162.93,582.38 177.5,587C188.43,590.47 199.37,594.57 210.3,598C217.6,600.29 224.9,602.78 232.2,604.5C235.83,605.35 239.47,606.06 243.1,606.7C250.4,607.98 257.7,608.74 265,610C272.3,611.26 279.6,614.4 286.9,614.4C292.73,614.4 298.57,614.4 304.4,614.4C313.13,614.4 321.87,621.26 330.6,624.2C345.2,629.12 359.8,632.6 374.4,637.4C393.73,643.76 413.07,651.53 432.4,658.6" fill="none" stroke="#0a0a0a" stroke-width="4.4" stroke-linejoin="round" stroke-linecap="round"/><path d="M262.2,427.2 V788.8 M91.2,608 H434" stroke="#111" stroke-width="1.6" fill="none"/><rect x="91.2" y="427.2" width="342.8" height="361.6" fill="none" stroke="#1a1a1a" stroke-width="2.2"/><path d="M91.2,788.8 h-6 M91.2,743.6 h-3 M91.2,698.4 h-6 M91.2,653.2 h-3 M91.2,608 h-6 M91.2,562.8 h-3 M91.2,517.6 h-6 M91.2,472.4 h-3 M91.2,427.2 h-6 M109.52,788.8 v3 M140.06,788.8 v5 M170.59,788.8 v3 M201.13,788.8 v5 M231.66,788.8 v3 M262.2,788.8 v5 M292.88,788.8 v3 M323.56,788.8 v5 M354.24,788.8 v3 M384.91,788.8 v5 M415.59,788.8 v3" stroke="#1a1a1a" stroke-width="2" fill="none"/><text x="81.2" y="435.1" text-anchor="end" font-size="26">2</text><text x="81.2" y="525.5" text-anchor="end" font-size="26">1</text><text x="81.2" y="615.9" text-anchor="end" font-size="26">0</text><text x="81.2" y="706.3" text-anchor="end" font-size="26">-1</text><text x="81.2" y="796.7" text-anchor="end" font-size="26">-2</text><text x="140.06" y="818.2" text-anchor="middle" font-size="26">-1000</text><text x="201.13" y="818.2" text-anchor="middle" font-size="26">-500</text><text x="262.2" y="818.2" text-anchor="middle" font-size="26">0</text><text x="323.56" y="818.2" text-anchor="middle" font-size="26">500</text><text x="384.91" y="818.2" text-anchor="middle" font-size="26">1000</text><text x="263.2" y="845.8" text-anchor="middle" font-size="26.5">H (Oe)</text><text x="112.5" y="477.8" font-size="52" font-weight="bold">e</text><text x="355" y="475.5" font-size="33" font-weight="bold" word-spacing="2" fill="#000">0 %</text></g><g font-family="'Liberation Sans', Arial, sans-serif" fill="#111"><path d="M483.3,561.9C496.8,567.73 510.3,573.97 523.8,579.4C538.37,585.26 552.93,591.03 567.5,595.8C574.8,598.19 582.1,600.32 589.4,602.3C593.77,603.48 598.13,605.6 602.5,605.6C606.87,605.6 611.23,605.6 615.6,605.6C621.43,605.6 627.27,602.64 633.1,601.3C638.93,599.96 644.77,597.5 650.6,597.5C655,597.5 659.4,598.03 663.8,598.6C668.17,599.16 672.53,601.14 676.9,602.3C681.27,603.46 685.63,604.44 690,605.6C696.57,607.35 703.13,609.07 709.7,611.2C720.63,614.75 731.57,620.06 742.5,624C753.43,627.94 764.37,631.22 775.3,635C790.63,640.31 805.97,646 821.3,651.5" fill="none" stroke="#1e8a4c" stroke-width="3.8" stroke-linejoin="round" stroke-linecap="round"/><path d="M483.3,562.9C496.8,568.73 510.3,574.97 523.8,580.4C538.37,586.26 552.93,592.03 567.5,596.8C574.8,599.19 582.1,601.32 589.4,603.3C593.77,604.48 598.13,605.7 602.5,606.6C606.87,607.5 611.23,607.9 615.6,608.9C620,609.91 624.4,613.06 628.8,613.3C636.07,613.7 643.33,613.9 650.6,613.9C655,613.9 659.4,612.24 663.8,611.1C668.17,609.96 672.53,607.29 676.9,606.7C681.27,606.11 685.63,605.6 690,605.6C696.57,605.6 703.13,610.57 709.7,613.2C720.63,617.58 731.57,622.92 742.5,627C753.43,631.08 764.37,634.27 775.3,638C790.63,643.23 805.97,648.67 821.3,654" fill="none" stroke="#1e8a4c" stroke-width="3.8" stroke-linejoin="round" stroke-linecap="round"/><path d="M651,429.9 V786 M482.8,607.5 H821.7" stroke="#111" stroke-width="1.6" fill="none"/><rect x="482.8" y="429.9" width="338.9" height="356.1" fill="none" stroke="#1a1a1a" stroke-width="2.2"/><path d="M482.8,785.55 h-6 M482.8,741.04 h-3 M482.8,696.52 h-6 M482.8,652.01 h-3 M482.8,607.5 h-6 M482.8,562.99 h-3 M482.8,518.48 h-6 M482.8,473.96 h-3 M482.8,429.45 h-6 M500.82,786 v3 M530.86,786 v5 M560.89,786 v3 M590.93,786 v5 M620.96,786 v3 M651,786 v5 M681.48,786 v3 M711.96,786 v5 M742.45,786 v3 M772.93,786 v5 M803.41,786 v3" stroke="#1a1a1a" stroke-width="2" fill="none"/><text x="472.8" y="437.35" text-anchor="end" font-size="26">2</text><text x="472.8" y="526.38" text-anchor="end" font-size="26">1</text><text x="472.8" y="615.4" text-anchor="end" font-size="26">0</text><text x="472.8" y="704.42" text-anchor="end" font-size="26">-1</text><text x="472.8" y="793.45" text-anchor="end" font-size="26">-2</text><text x="530.86" y="815.4" text-anchor="middle" font-size="26">-1000</text><text x="590.93" y="815.4" text-anchor="middle" font-size="26">-500</text><text x="651" y="815.4" text-anchor="middle" font-size="26">0</text><text x="711.96" y="815.4" text-anchor="middle" font-size="26">500</text><text x="772.93" y="815.4" text-anchor="middle" font-size="26">1000</text><text x="652" y="843" text-anchor="middle" font-size="26.5">H (Oe)</text><text x="502.5" y="481" font-size="52" font-weight="bold">f</text><text x="705.5" y="476" font-size="33" font-weight="bold" word-spacing="2" fill="#1f9a50">0.4 %</text></g><g font-family="'Liberation Sans', Arial, sans-serif" fill="#111"><path d="M863.3,557.5C880.43,565.17 897.57,574.04 914.7,580.5C925.63,584.63 936.57,586.91 947.5,591.4C953.33,593.8 959.17,597.91 965,600.3C970.1,602.39 975.2,605.6 980.3,605.6C986.87,605.6 993.43,605.6 1000,605.6C1005.83,605.6 1011.67,600.13 1017.5,598C1023.33,595.87 1029.17,593.17 1035,592.5C1040.1,591.91 1045.2,591.4 1050.3,591.4C1056.13,591.4 1061.97,591.91 1067.8,592.5C1075.1,593.24 1082.4,596.6 1089.7,599.1C1097,601.6 1104.3,604.89 1111.6,607.8C1122.53,612.15 1133.47,616.18 1144.4,620.9C1155.33,625.62 1166.27,631.12 1177.2,636.3C1186.33,640.63 1195.47,645.03 1204.6,649.4" fill="none" stroke="#e8202a" stroke-width="3.5" stroke-linejoin="round" stroke-linecap="round"/><path d="M863.3,558.5C880.43,566.17 897.57,575.04 914.7,581.5C925.63,585.63 936.57,587.7 947.5,592.4C953.33,594.91 959.17,600.09 965,602.3C970.1,604.23 975.2,605.1 980.3,606.7C987.6,609 994.9,612.17 1002.2,614.4C1010.23,616.86 1018.27,620.9 1026.3,620.9C1031.4,620.9 1036.5,618.54 1041.6,616.6C1048.17,614.11 1054.73,605.85 1061.3,604.5C1067.13,603.3 1072.97,602.3 1078.8,602.3C1084.63,602.3 1090.47,602.77 1096.3,603.4C1101.4,603.95 1106.5,606.9 1111.6,608.8C1122.53,612.87 1133.47,617.18 1144.4,621.9C1155.33,626.62 1166.27,632.12 1177.2,637.3C1186.33,641.63 1195.47,646.03 1204.6,650.4" fill="none" stroke="#e8202a" stroke-width="3.5" stroke-linejoin="round" stroke-linecap="round"/><path d="M1034.4,425.6 V785.4 M862.8,605.5 H1205.2" stroke="#111" stroke-width="1.6" fill="none"/><rect x="862.8" y="425.6" width="342.4" height="359.8" fill="none" stroke="#1a1a1a" stroke-width="2.2"/><path d="M862.8,785.4 h-6 M862.8,740.42 h-3 M862.8,695.45 h-6 M862.8,650.48 h-3 M862.8,605.5 h-6 M862.8,560.52 h-3 M862.8,515.55 h-6 M862.8,470.58 h-3 M862.8,425.6 h-6 M881.19,785.4 v3 M911.83,785.4 v5 M942.47,785.4 v3 M973.11,785.4 v5 M1003.76,785.4 v3 M1034.4,785.4 v5 M1064.9,785.4 v3 M1095.4,785.4 v5 M1125.9,785.4 v3 M1156.4,785.4 v5 M1186.9,785.4 v3" stroke="#1a1a1a" stroke-width="2" fill="none"/><text x="852.8" y="433.5" text-anchor="end" font-size="26">2</text><text x="852.8" y="523.45" text-anchor="end" font-size="26">1</text><text x="852.8" y="613.4" text-anchor="end" font-size="26">0</text><text x="852.8" y="703.35" text-anchor="end" font-size="26">-1</text><text x="852.8" y="793.3" text-anchor="end" font-size="26">-2</text><text x="911.83" y="814.8" text-anchor="middle" font-size="26">-1000</text><text x="973.11" y="814.8" text-anchor="middle" font-size="26">-500</text><text x="1034.4" y="814.8" text-anchor="middle" font-size="26">0</text><text x="1095.4" y="814.8" text-anchor="middle" font-size="26">500</text><text x="1156.4" y="814.8" text-anchor="middle" font-size="26">1000</text><text x="1035.4" y="842.4" text-anchor="middle" font-size="26.5">H (Oe)</text><text x="881.5" y="474" font-size="52" font-weight="bold">g</text><text x="1113" y="471.5" font-size="33" font-weight="bold" word-spacing="2" fill="#e8262b">2 %</text></g><g font-family="'Liberation Sans', Arial, sans-serif" fill="#111"><path d="M1248.3,532.6C1261.8,538.8 1275.3,544.51 1288.8,551.2C1307,560.21 1325.2,574.1 1343.4,580.8C1350.7,583.49 1358,585.01 1365.3,587.3C1376.23,590.73 1387.17,595.59 1398.1,598.3C1404.67,599.93 1411.23,601.09 1417.8,602.3C1424.37,603.51 1430.93,604.09 1437.5,605.6C1446.27,607.61 1455.03,612.01 1463.8,615.8C1478.37,622.09 1492.93,630.59 1507.5,637.6C1518.43,642.86 1529.37,647.81 1540.3,652.9C1556,660.21 1571.7,667.5 1587.4,674.8" fill="none" stroke="#2c4ca6" stroke-width="5.2" stroke-linejoin="round" stroke-linecap="round"/><path d="M1248.3,533.6C1261.8,539.8 1275.3,545.51 1288.8,552.2C1307,561.21 1325.2,575.1 1343.4,581.8C1350.7,584.49 1358,586.01 1365.3,588.3C1376.23,591.73 1387.17,596.18 1398.1,599.3C1404.67,601.18 1411.23,603.02 1417.8,604.3C1424.37,605.58 1430.93,605.99 1437.5,607.4C1446.27,609.28 1455.03,613.2 1463.8,616.8C1478.37,622.78 1492.93,631.59 1507.5,638.6C1518.43,643.86 1529.37,648.81 1540.3,653.9C1556,661.21 1571.7,668.5 1587.4,675.8" fill="none" stroke="#2c4ca6" stroke-width="5.2" stroke-linejoin="round" stroke-linecap="round"/><path d="M1418.3,425.5 V783.7 M1248,604.4 H1588.8" stroke="#111" stroke-width="1.6" fill="none"/><rect x="1248" y="425.5" width="340.8" height="358.2" fill="none" stroke="#1a1a1a" stroke-width="2.2"/><path d="M1248,783.5 h-6 M1248,738.73 h-3 M1248,693.95 h-6 M1248,649.17 h-3 M1248,604.4 h-6 M1248,559.62 h-3 M1248,514.85 h-6 M1248,470.07 h-3 M1248,425.3 h-6 M1266.25,783.7 v3 M1296.66,783.7 v5 M1327.07,783.7 v3 M1357.48,783.7 v5 M1387.89,783.7 v3 M1418.3,783.7 v5 M1448.75,783.7 v3 M1479.19,783.7 v5 M1509.64,783.7 v3 M1540.09,783.7 v5 M1570.53,783.7 v3" stroke="#1a1a1a" stroke-width="2" fill="none"/><text x="1238" y="433.2" text-anchor="end" font-size="26">2</text><text x="1238" y="522.75" text-anchor="end" font-size="26">1</text><text x="1238" y="612.3" text-anchor="end" font-size="26">0</text><text x="1238" y="701.85" text-anchor="end" font-size="26">-1</text><text x="1238" y="791.4" text-anchor="end" font-size="26">-2</text><text x="1296.66" y="813.1" text-anchor="middle" font-size="26">-1000</text><text x="1357.48" y="813.1" text-anchor="middle" font-size="26">-500</text><text x="1418.3" y="813.1" text-anchor="middle" font-size="26">0</text><text x="1479.19" y="813.1" text-anchor="middle" font-size="26">500</text><text x="1540.09" y="813.1" text-anchor="middle" font-size="26">1000</text><text x="1419.3" y="840.7" text-anchor="middle" font-size="26.5">H (Oe)</text><text x="1268.5" y="477" font-size="52" font-weight="bold">h</text><text x="1495" y="471.5" font-size="33" font-weight="bold" word-spacing="2" fill="#27287a">8 %</text></g><text transform="translate(49.5,614) rotate(-90)" text-anchor="middle" font-family="'Liberation Sans', Arial, sans-serif" font-size="26" fill="#111">M x10<tspan dy="-12" font-size="15.5">-5</tspan><tspan dy="12"> (emu)</tspan></text><g font-family="'Liberation Sans', Arial, sans-serif" font-weight="bold" font-size="26" fill="#000"><path d="M97.2,1210 L170.7,1210 L202.4,1208.6 L225.4,1205.7 L251.4,1198.5 L278.7,1174 L303,1057 L330.6,950.7 L356.5,923.3 L383.9,915.5 L410,912.6 L435.8,911.8 L499,911.8 L511.3,913.8" fill="none" stroke="#111" stroke-width="2.6" stroke-linejoin="round"/><path d="M97.2,1210 L170.7,1210 L202.4,1208.6 L225.4,1205.7 L251.4,1198.5 L275,1179 L300,1062 L328,956 L356.5,924.3 L383.9,916.5 L410,913.6 L435.8,912.8 L499,912.8 L511.3,914.8" fill="none" stroke="#111" stroke-width="2.2" stroke-linejoin="round"/><path d="M97.2,1180.6 L176.5,1187 L225.4,1188.4 L251.4,1184 L278.7,1164 L303,1054.4 L329.2,959.3 L356.5,937.7 L383.9,933.4 L410,933.4 L511.3,942" fill="none" stroke="#e3202a" stroke-width="3" stroke-linejoin="round"/><path d="M97.2,1181.6 L176.5,1188.2 L225.4,1189.8 L251.4,1186.5 L276,1170 L300,1062 L327,965 L356.5,941 L383.9,935.5 L410,935 L511.3,943" fill="none" stroke="#e3202a" stroke-width="3" stroke-linejoin="round"/><rect x="96.6" y="883.6" width="415.6" height="357.5" fill="none" stroke="#000" stroke-width="2.8"/><path d="M96.6,1220.4 h3.5 M96.6,1197.6 h6 M96.6,1174.8 h3.5 M96.6,1152 h6 M96.6,1129.2 h3.5 M96.6,1106.4 h6 M96.6,1083.6 h3.5 M96.6,1060.8 h6 M96.6,1038 h3.5 M96.6,1015.2 h6 M96.6,992.4 h3.5 M96.6,969.6 h6 M96.6,946.8 h3.5 M96.6,924 h6 M96.6,901.2 h3.5 M148.55,1241.1 v-3.5 M200.5,1241.1 v-6 M252.45,1241.1 v-3.5 M304.4,1241.1 v-6 M356.35,1241.1 v-3.5 M408.3,1241.1 v-6 M460.25,1241.1 v-3.5" stroke="#000" stroke-width="2.4" fill="none"/><text x="87" y="1207.4" text-anchor="end" font-size="27">-600</text><text x="87" y="1161.8" text-anchor="end" font-size="27">-400</text><text x="87" y="1116.2" text-anchor="end" font-size="27">-200</text><text x="87" y="1070.6" text-anchor="end" font-size="27">0</text><text x="87" y="1025" text-anchor="end" font-size="27">200</text><text x="87" y="979.4" text-anchor="end" font-size="27">400</text><text x="87" y="933.8" text-anchor="end" font-size="27">600</text><text x="96.6" y="1271" text-anchor="middle" font-size="27">-8</text><text x="200.5" y="1271" text-anchor="middle" font-size="27">-4</text><text x="304.4" y="1271" text-anchor="middle" font-size="27">0</text><text x="408.3" y="1271" text-anchor="middle" font-size="27">4</text><text x="512.2" y="1271" text-anchor="middle" font-size="27">8</text><text x="309.9" y="1306" text-anchor="middle" font-size="27.5">H (K Oe)</text><text x="126" y="936" font-size="52">i</text><text transform="translate(23.5,1070.5) rotate(-90)" text-anchor="middle" font-size="27.5">Magnetic moments (<tspan font-family="'Liberation Serif', serif" font-weight="normal">&#956;</tspan> emu)</text><path d="M120,1048.6 H175" stroke="#111" stroke-width="2.6"/><path d="M120,1086.7 H175" stroke="#e3202a" stroke-width="2.6"/><text x="180.5" y="1057" font-size="24.5">WS<tspan dy="6" font-size="17">2</tspan></text><text x="180.5" y="1095" font-size="24.5">Fe:WS<tspan dy="6" font-size="17">2</tspan></text></g><g font-family="'DejaVu Sans', sans-serif" font-size="17" fill="#333"><path d="M558.1,946.25C559.15,947.92 560.2,948.8 561.25,951.25C562.5,954.17 563.75,965.84 565,968.75C565.63,970.22 566.27,971.14 566.9,971.9C568.57,973.9 570.23,974.04 571.9,976.25C574.6,979.82 577.3,1003.75 580,1003.75C583.53,1003.75 587.07,987.5 590.6,987.5C593.93,987.5 597.27,1023.75 600.6,1023.75C604.57,1023.75 608.53,971.25 612.5,971.25C614.58,971.25 616.67,991.7 618.75,995C620.83,998.3 622.92,998.17 625,1001.25C628.13,1005.88 631.27,1031.9 634.4,1031.9C637.1,1031.9 639.8,1028.64 642.5,1025C645.2,1021.36 647.9,998.75 650.6,998.75C653.32,998.75 656.03,1006.9 658.75,1006.9C661.47,1006.9 664.18,993.1 666.9,993.1C670.63,993.1 674.37,1025 678.1,1025C681.03,1025 683.97,1016.9 686.9,1016.9C690.63,1016.9 694.37,1041.25 698.1,1041.25C700.82,1041.25 703.53,1030 706.25,1030C708.75,1030 711.25,1043.77 713.75,1046.25C715.63,1048.12 717.52,1048.12 719.4,1050C722.1,1052.7 724.8,1066.87 727.5,1068.75C729.58,1070.2 731.67,1071.4 733.75,1071.4C742.5,1071.4 751.25,1071.4 760,1071.4C768,1071.4 776,1071.37 784,1071.2C785.13,1071.18 786.27,1070.42 787.4,1069.5C789.53,1067.77 791.67,1056.33 793.8,1047.8C795.57,1040.73 797.33,1022.3 799.1,1022.3C800.83,1022.3 802.57,1035.51 804.3,1042.12L804.3,1071.4 L558.1,1071.4Z" fill="#8080ff"/><path d="M557.75,1193.75C560.17,1185.83 562.58,1170 565,1170C567.3,1170 569.6,1174.4 571.9,1174.4C574.6,1174.4 577.3,1141.25 580,1141.25C582.92,1141.25 585.83,1151.25 588.75,1151.25C591.25,1151.25 593.75,1148.28 596.25,1145C598.75,1141.72 601.25,1121.9 603.75,1121.9C607.3,1121.9 610.85,1158.1 614.4,1158.1C617.93,1158.1 621.47,1143.86 625,1133.75C627.5,1126.59 630,1108.77 632.5,1106.25C634.58,1104.15 636.67,1102.5 638.75,1102.5C641.67,1102.5 644.58,1129.86 647.5,1135C649.58,1138.67 651.67,1139.86 653.75,1142.5C657.3,1146.99 660.85,1156.9 664.4,1156.9C666.68,1156.9 668.97,1151.54 671.25,1146.25C673.75,1140.46 676.25,1111.25 678.75,1111.25C681.47,1111.25 684.18,1130 686.9,1130C689.6,1130 692.3,1127.73 695,1125C697.92,1122.05 700.83,1099.4 703.75,1099.4C706.87,1099.4 709.98,1113.75 713.1,1113.75C715.4,1113.75 717.7,1101.32 720,1096.25C724.17,1087.07 728.33,1073.84 732.5,1072.5C734,1072.02 735.5,1071.6 737,1071.6C751.33,1071.6 765.67,1071.6 780,1071.6C788.1,1071.6 796.2,1071.69 804.3,1071.74L804.3,1071.4 L557.75,1071.4Z" fill="#ffbf80"/><path d="M558,1071.4 H1050.6" stroke="#8c8c8c" stroke-width="1.8"/><path d="M557.75,1193.75C560.17,1185.83 562.58,1170 565,1170C567.3,1170 569.6,1174.4 571.9,1174.4C574.6,1174.4 577.3,1141.25 580,1141.25C582.92,1141.25 585.83,1151.25 588.75,1151.25C591.25,1151.25 593.75,1148.28 596.25,1145C598.75,1141.72 601.25,1121.9 603.75,1121.9C607.3,1121.9 610.85,1158.1 614.4,1158.1C617.93,1158.1 621.47,1143.86 625,1133.75C627.5,1126.59 630,1108.77 632.5,1106.25C634.58,1104.15 636.67,1102.5 638.75,1102.5C641.67,1102.5 644.58,1129.86 647.5,1135C649.58,1138.67 651.67,1139.86 653.75,1142.5C657.3,1146.99 660.85,1156.9 664.4,1156.9C666.68,1156.9 668.97,1151.54 671.25,1146.25C673.75,1140.46 676.25,1111.25 678.75,1111.25C681.47,1111.25 684.18,1130 686.9,1130C689.6,1130 692.3,1127.73 695,1125C697.92,1122.05 700.83,1099.4 703.75,1099.4C706.87,1099.4 709.98,1113.75 713.1,1113.75C715.4,1113.75 717.7,1101.32 720,1096.25C724.17,1087.07 728.33,1073.84 732.5,1072.5C734,1072.02 735.5,1071.6 737,1071.6C751.33,1071.6 765.67,1071.6 780,1071.6C791.67,1071.6 803.33,1071.73 815,1071.8" fill="none" stroke="#ff9a30" stroke-width="2"/><path d="M815,1071.8C815.7,1071.97 816.4,1072.05 817.1,1072.3C818.9,1072.95 820.7,1075.85 822.5,1078.6C824.27,1081.3 826.03,1090.3 827.8,1090.3C829.9,1090.3 832,1082.9 834.1,1082.9C837.3,1082.9 840.5,1107.3 843.7,1107.3C847.6,1107.3 851.5,1073.8 855.4,1073.8C856.8,1073.8 858.2,1073.8 859.6,1073.8C863.17,1073.8 866.73,1107.3 870.3,1107.3C874.53,1107.3 878.77,1073.5 883,1073.5C885,1073.5 887,1074.28 889,1075.5C890.53,1076.44 892.07,1082.05 893.6,1087.3C895.9,1095.17 898.2,1118.65 900.5,1125.5C903.23,1133.64 905.97,1135.67 908.7,1141.9C911.2,1147.6 913.7,1161.7 916.2,1161.7C918.7,1161.7 921.2,1152.8 923.7,1152.8C926.87,1152.8 930.03,1153.85 933.2,1155.5C935.47,1156.68 937.73,1163.11 940,1169.2C943.87,1179.59 947.73,1221 951.6,1221C955.03,1221 958.47,1193 961.9,1193C964.17,1193 966.43,1197.8 968.7,1197.8C970.97,1197.8 973.23,1179.94 975.5,1176C978.23,1171.24 980.97,1171.13 983.7,1166.4C987.13,1160.46 990.57,1129.6 994,1129.6C996.03,1129.6 998.07,1136.56 1000.1,1144.6C1002.13,1152.64 1004.17,1206 1006.2,1206C1009.63,1206 1013.07,1120 1016.5,1120C1018.77,1120 1021.03,1128.66 1023.3,1133.7C1026.03,1139.78 1028.77,1154.2 1031.5,1154.2C1034.67,1154.2 1037.83,1132.08 1041,1128.2C1044.17,1124.32 1047.33,1123.2 1050.5,1120.7" fill="none" stroke="#f5a040" stroke-width="1.8"/><path d="M558.1,946.25C559.15,947.92 560.2,948.8 561.25,951.25C562.5,954.17 563.75,965.84 565,968.75C565.63,970.22 566.27,971.14 566.9,971.9C568.57,973.9 570.23,974.04 571.9,976.25C574.6,979.82 577.3,1003.75 580,1003.75C583.53,1003.75 587.07,987.5 590.6,987.5C593.93,987.5 597.27,1023.75 600.6,1023.75C604.57,1023.75 608.53,971.25 612.5,971.25C614.58,971.25 616.67,991.7 618.75,995C620.83,998.3 622.92,998.17 625,1001.25C628.13,1005.88 631.27,1031.9 634.4,1031.9C637.1,1031.9 639.8,1028.64 642.5,1025C645.2,1021.36 647.9,998.75 650.6,998.75C653.32,998.75 656.03,1006.9 658.75,1006.9C661.47,1006.9 664.18,993.1 666.9,993.1C670.63,993.1 674.37,1025 678.1,1025C681.03,1025 683.97,1016.9 686.9,1016.9C690.63,1016.9 694.37,1041.25 698.1,1041.25C700.82,1041.25 703.53,1030 706.25,1030C708.75,1030 711.25,1043.77 713.75,1046.25C715.63,1048.12 717.52,1048.12 719.4,1050C722.1,1052.7 724.8,1066.87 727.5,1068.75C729.58,1070.2 731.67,1071.4 733.75,1071.4C742.5,1071.4 751.25,1071.4 760,1071.4C768,1071.4 776,1071.37 784,1071.2C785.13,1071.18 786.27,1070.42 787.4,1069.5C789.53,1067.77 791.67,1056.33 793.8,1047.8C795.57,1040.73 797.33,1022.3 799.1,1022.3C800.87,1022.3 802.63,1035.62 804.4,1042.5C806.53,1050.81 808.67,1065.26 810.8,1068C812.2,1069.8 813.6,1070.27 815,1071.4" fill="none" stroke="#1414d8" stroke-width="2.4"/><path d="M815,1071.4C815.7,1071.33 816.4,1071.31 817.1,1071.2C818.9,1070.92 820.7,1068.62 822.5,1065.9C825.13,1061.92 827.77,1035 830.4,1035C832.37,1035 834.33,1042.24 836.3,1047.8C838.07,1052.8 839.83,1067.4 841.6,1069C843.37,1070.6 845.13,1071.7 846.9,1071.7C857.53,1071.7 868.17,1071.38 878.8,1070.5C882.23,1070.22 885.67,1068.6 889.1,1065C890.6,1063.43 892.1,1053.16 893.6,1046.8C895.63,1038.18 897.67,1025.26 899.7,1019.5C902.47,1011.67 905.23,1009.65 908,1002.8C910.53,996.53 913.07,978.6 915.6,978.6C918.4,978.6 921.2,985.8 924,987.7C926.53,989.42 929.07,991.5 931.6,991.5C933.37,991.5 935.13,984.27 936.9,978.6C939.17,971.32 941.43,952.54 943.7,945.2C946.23,936.99 948.77,927 951.3,927C953.07,927 954.83,931.3 956.6,934.6C958.63,938.4 960.67,951.3 962.7,951.3C964.7,951.3 966.7,944.5 968.7,944.5C972,944.5 975.3,961.89 978.6,971C983.63,984.89 988.67,1014.2 993.7,1014.2C996.23,1014.2 998.77,994.08 1001.3,978.6C1002.83,969.23 1004.37,940.7 1005.9,940.7C1007.4,940.7 1008.9,963.17 1010.4,974C1012.67,990.37 1014.93,1021.8 1017.2,1021.8C1019.47,1021.8 1021.73,1016.36 1024,1011.9C1026.53,1006.92 1029.07,988.4 1031.6,988.4C1034.13,988.4 1036.67,1002.76 1039.2,1007.4C1042.8,1013.99 1046.4,1017.53 1050,1022.6" fill="none" stroke="#2020dc" stroke-width="2.2"/><g><g stroke-width="1.5"><path d="M788.1,922.5L794.66,918.7" stroke="#b4b4b4"/><path d="M794.66,918.7L801.22,914.9" stroke="#e2e286"/><path d="M788.1,922.5L788.1,930.05" stroke="#b4b4b4"/><path d="M788.1,930.05L788.1,937.6" stroke="#e2e286"/><path d="M814.35,922.5L820.91,918.7" stroke="#b4b4b4"/><path d="M820.91,918.7L827.47,914.9" stroke="#e2e286"/><path d="M814.35,922.5L814.35,930.05" stroke="#b4b4b4"/><path d="M814.35,930.05L814.35,937.6" stroke="#e2e286"/><path d="M814.35,922.5L807.79,918.7" stroke="#b4b4b4"/><path d="M807.79,918.7L801.22,914.9" stroke="#e2e286"/><path d="M840.6,922.5L847.16,918.7" stroke="#b4b4b4"/><path d="M847.16,918.7L853.72,914.9" stroke="#e2e286"/><path d="M840.6,922.5L840.6,930.05" stroke="#b4b4b4"/><path d="M840.6,930.05L840.6,937.6" stroke="#e2e286"/><path d="M840.6,922.5L834.04,918.7" stroke="#b4b4b4"/><path d="M834.04,918.7L827.47,914.9" stroke="#e2e286"/><path d="M866.85,922.5L873.41,918.7" stroke="#b4b4b4"/><path d="M873.41,918.7L879.97,914.9" stroke="#e2e286"/><path d="M866.85,922.5L866.85,930.05" stroke="#b4b4b4"/><path d="M866.85,930.05L866.85,937.6" stroke="#e2e286"/><path d="M866.85,922.5L860.29,918.7" stroke="#b4b4b4"/><path d="M860.29,918.7L853.72,914.9" stroke="#e2e286"/><path d="M893.1,922.5L899.66,918.7" stroke="#b4b4b4"/><path d="M899.66,918.7L906.22,914.9" stroke="#e2e286"/><path d="M893.1,922.5L893.1,930.05" stroke="#b4b4b4"/><path d="M893.1,930.05L893.1,937.6" stroke="#e2e286"/><path d="M893.1,922.5L886.54,918.7" stroke="#b4b4b4"/><path d="M886.54,918.7L879.97,914.9" stroke="#e2e286"/><path d="M774.98,945.25L781.54,941.45" stroke="#b4b4b4"/><path d="M781.54,941.45L788.1,937.65" stroke="#e2e286"/><path d="M774.98,945.25L774.98,952.8" stroke="#b4b4b4"/><path d="M774.98,952.8L774.98,960.35" stroke="#e2e286"/><path d="M801.23,945.25L807.79,941.45" stroke="#b4b4b4"/><path d="M807.79,941.45L814.35,937.65" stroke="#e2e286"/><path d="M801.23,945.25L801.23,952.8" stroke="#b4b4b4"/><path d="M801.23,952.8L801.23,960.35" stroke="#e2e286"/><path d="M801.23,945.25L794.66,941.45" stroke="#b4b4b4"/><path d="M794.66,941.45L788.1,937.65" stroke="#e2e286"/><path d="M827.48,945.25L834.04,941.45" stroke="#b4b4b4"/><path d="M834.04,941.45L840.6,937.65" stroke="#e2e286"/><path d="M827.48,945.25L827.48,952.8" stroke="#b4b4b4"/><path d="M827.48,952.8L827.48,960.35" stroke="#e2e286"/><path d="M827.48,945.25L820.91,941.45" stroke="#b4b4b4"/><path d="M820.91,941.45L814.35,937.65" stroke="#e2e286"/><path d="M853.73,945.25L860.29,941.45" stroke="#b4b4b4"/><path d="M860.29,941.45L866.85,937.65" stroke="#e2e286"/><path d="M853.73,945.25L853.73,952.8" stroke="#b4b4b4"/><path d="M853.73,952.8L853.73,960.35" stroke="#e2e286"/><path d="M853.73,945.25L847.16,941.45" stroke="#b4b4b4"/><path d="M847.16,941.45L840.6,937.65" stroke="#e2e286"/><path d="M879.98,945.25L886.54,941.45" stroke="#b4b4b4"/><path d="M886.54,941.45L893.1,937.65" stroke="#e2e286"/><path d="M879.98,945.25L879.98,952.8" stroke="#b4b4b4"/><path d="M879.98,952.8L879.98,960.35" stroke="#e2e286"/><path d="M879.98,945.25L873.41,941.45" stroke="#b4b4b4"/><path d="M873.41,941.45L866.85,937.65" stroke="#e2e286"/><path d="M761.86,968L768.42,964.2" stroke="#b4b4b4"/><path d="M768.42,964.2L774.98,960.4" stroke="#e2e286"/><path d="M761.86,968L761.86,975.55" stroke="#b4b4b4"/><path d="M761.86,975.55L761.86,983.1" stroke="#e2e286"/><path d="M788.11,968L794.67,964.2" stroke="#b4b4b4"/><path d="M794.67,964.2L801.23,960.4" stroke="#e2e286"/><path d="M788.11,968L788.11,975.55" stroke="#b4b4b4"/><path d="M788.11,975.55L788.11,983.1" stroke="#e2e286"/><path d="M788.11,968L781.55,964.2" stroke="#b4b4b4"/><path d="M781.55,964.2L774.98,960.4" stroke="#e2e286"/><path d="M814.36,968L820.92,964.2" stroke="#b4b4b4"/><path d="M820.92,964.2L827.48,960.4" stroke="#e2e286"/><path d="M814.36,968L814.36,975.55" stroke="#b4b4b4"/><path d="M814.36,975.55L814.36,983.1" stroke="#e2e286"/><path d="M814.36,968L807.8,964.2" stroke="#b4b4b4"/><path d="M807.8,964.2L801.23,960.4" stroke="#e2e286"/><path d="M840.61,968L847.17,964.2" stroke="#b4b4b4"/><path d="M847.17,964.2L853.73,960.4" stroke="#e2e286"/><path d="M840.61,968L840.61,975.55" stroke="#b4b4b4"/><path d="M840.61,975.55L840.61,983.1" stroke="#e2e286"/><path d="M840.61,968L834.05,964.2" stroke="#b4b4b4"/><path d="M834.05,964.2L827.48,960.4" stroke="#e2e286"/><path d="M866.86,968L873.42,964.2" stroke="#b4b4b4"/><path d="M873.42,964.2L879.98,960.4" stroke="#e2e286"/><path d="M866.86,968L866.86,975.55" stroke="#b4b4b4"/><path d="M866.86,975.55L866.86,983.1" stroke="#e2e286"/><path d="M866.86,968L860.3,964.2" stroke="#b4b4b4"/><path d="M860.3,964.2L853.73,960.4" stroke="#e2e286"/><path d="M748.74,990.75L755.3,986.95" stroke="#b4b4b4"/><path d="M755.3,986.95L761.86,983.15" stroke="#e2e286"/><path d="M748.74,990.75L748.74,998.3" stroke="#b4b4b4"/><path d="M748.74,998.3L748.74,1005.85" stroke="#e2e286"/><path d="M774.99,990.75L781.55,986.95" stroke="#b4b4b4"/><path d="M781.55,986.95L788.11,983.15" stroke="#e2e286"/><path d="M774.99,990.75L774.99,998.3" stroke="#b4b4b4"/><path d="M774.99,998.3L774.99,1005.85" stroke="#e2e286"/><path d="M774.99,990.75L768.42,986.95" stroke="#b4b4b4"/><path d="M768.42,986.95L761.86,983.15" stroke="#e2e286"/><path d="M801.24,990.75L807.8,986.95" stroke="#b4b4b4"/><path d="M807.8,986.95L814.36,983.15" stroke="#e2e286"/><path d="M801.24,990.75L801.24,998.3" stroke="#b4b4b4"/><path d="M801.24,998.3L801.24,1005.85" stroke="#e2e286"/><path d="M801.24,990.75L794.67,986.95" stroke="#b4b4b4"/><path d="M794.67,986.95L788.11,983.15" stroke="#e2e286"/><path d="M827.49,990.75L834.05,986.95" stroke="#b4b4b4"/><path d="M834.05,986.95L840.61,983.15" stroke="#e2e286"/><path d="M827.49,990.75L827.49,998.3" stroke="#b4b4b4"/><path d="M827.49,998.3L827.49,1005.85" stroke="#e2e286"/><path d="M827.49,990.75L820.92,986.95" stroke="#b4b4b4"/><path d="M820.92,986.95L814.36,983.15" stroke="#e2e286"/><path d="M853.74,990.75L860.3,986.95" stroke="#b4b4b4"/><path d="M860.3,986.95L866.86,983.15" stroke="#e2e286"/><path d="M853.74,990.75L853.74,998.3" stroke="#b4b4b4"/><path d="M853.74,998.3L853.74,1005.85" stroke="#e2e286"/><path d="M853.74,990.75L847.17,986.95" stroke="#b4b4b4"/><path d="M847.17,986.95L840.61,983.15" stroke="#e2e286"/><path d="M735.62,1013.5L742.18,1009.7" stroke="#b4b4b4"/><path d="M742.18,1009.7L748.74,1005.9" stroke="#e2e286"/><path d="M761.87,1013.5L768.43,1009.7" stroke="#b4b4b4"/><path d="M768.43,1009.7L774.99,1005.9" stroke="#e2e286"/><path d="M761.87,1013.5L755.31,1009.7" stroke="#b4b4b4"/><path d="M755.31,1009.7L748.74,1005.9" stroke="#e2e286"/><path d="M788.12,1013.5L794.68,1009.7" stroke="#b4b4b4"/><path d="M794.68,1009.7L801.24,1005.9" stroke="#e2e286"/><path d="M788.12,1013.5L781.56,1009.7" stroke="#b4b4b4"/><path d="M781.56,1009.7L774.99,1005.9" stroke="#e2e286"/><path d="M814.37,1013.5L820.93,1009.7" stroke="#b4b4b4"/><path d="M820.93,1009.7L827.49,1005.9" stroke="#e2e286"/><path d="M814.37,1013.5L807.81,1009.7" stroke="#b4b4b4"/><path d="M807.81,1009.7L801.24,1005.9" stroke="#e2e286"/><path d="M840.62,1013.5L847.18,1009.7" stroke="#b4b4b4"/><path d="M847.18,1009.7L853.74,1005.9" stroke="#e2e286"/><path d="M840.62,1013.5L834.06,1009.7" stroke="#b4b4b4"/><path d="M834.06,1009.7L827.49,1005.9" stroke="#e2e286"/></g><path d="M814.36,979.95 l3.3,5.6 h-6.6zM827.48,957.15 l3.3,5.6 h-6.6zM814.36,979.9 l3.3,5.6 h-6.6zM814.35,934.4 l3.3,5.6 h-6.6zM801.22,911.7 l3.3,5.6 h-6.6zM866.85,934.4 l3.3,5.6 h-6.6zM866.86,979.9 l3.3,5.6 h-6.6zM801.23,957.2 l3.3,5.6 h-6.6zM827.49,1002.7 l3.3,5.6 h-6.6zM853.73,957.2 l3.3,5.6 h-6.6zM853.72,911.7 l3.3,5.6 h-6.6zM827.49,1002.65 l3.3,5.6 h-6.6zM748.74,1002.7 l3.3,5.6 h-6.6zM853.73,957.15 l3.3,5.6 h-6.6zM801.23,957.15 l3.3,5.6 h-6.6zM748.74,1002.65 l3.3,5.6 h-6.6zM840.61,979.95 l3.3,5.6 h-6.6zM840.6,934.45 l3.3,5.6 h-6.6zM774.98,957.2 l3.3,5.6 h-6.6zM788.11,979.95 l3.3,5.6 h-6.6zM788.1,934.45 l3.3,5.6 h-6.6zM906.22,911.7 l3.3,5.6 h-6.6zM774.98,957.15 l3.3,5.6 h-6.6zM801.24,1002.7 l3.3,5.6 h-6.6zM788.11,979.9 l3.3,5.6 h-6.6zM788.1,934.4 l3.3,5.6 h-6.6zM840.61,979.9 l3.3,5.6 h-6.6zM840.6,934.4 l3.3,5.6 h-6.6zM801.24,1002.65 l3.3,5.6 h-6.6zM853.74,1002.7 l3.3,5.6 h-6.6zM879.98,957.2 l3.3,5.6 h-6.6zM879.97,911.7 l3.3,5.6 h-6.6zM761.86,979.9 l3.3,5.6 h-6.6zM893.1,934.45 l3.3,5.6 h-6.6zM827.47,911.7 l3.3,5.6 h-6.6zM774.99,1002.7 l3.3,5.6 h-6.6zM853.74,1002.65 l3.3,5.6 h-6.6zM879.98,957.15 l3.3,5.6 h-6.6zM827.48,957.2 l3.3,5.6 h-6.6zM893.1,934.4 l3.3,5.6 h-6.6zM761.86,979.95 l3.3,5.6 h-6.6zM774.99,1002.65 l3.3,5.6 h-6.6zM814.35,934.45 l3.3,5.6 h-6.6zM866.86,979.95 l3.3,5.6 h-6.6zM866.85,934.45 l3.3,5.6 h-6.6z" fill="#d4d44c" stroke="#d4d44c" stroke-width="1.4" stroke-linejoin="round"/><path d="M784.4,920.1 h7.4 l-3.7,6.3zM810.65,920.1 h7.4 l-3.7,6.3zM836.9,920.1 h7.4 l-3.7,6.3zM863.15,920.1 h7.4 l-3.7,6.3zM889.4,920.1 h7.4 l-3.7,6.3zM771.28,942.85 h7.4 l-3.7,6.3zM797.53,942.85 h7.4 l-3.7,6.3zM823.78,942.85 h7.4 l-3.7,6.3zM850.03,942.85 h7.4 l-3.7,6.3zM876.28,942.85 h7.4 l-3.7,6.3zM758.16,965.6 h7.4 l-3.7,6.3zM784.41,965.6 h7.4 l-3.7,6.3zM836.91,965.6 h7.4 l-3.7,6.3zM863.16,965.6 h7.4 l-3.7,6.3zM745.04,988.35 h7.4 l-3.7,6.3zM771.29,988.35 h7.4 l-3.7,6.3zM797.54,988.35 h7.4 l-3.7,6.3zM823.79,988.35 h7.4 l-3.7,6.3zM850.04,988.35 h7.4 l-3.7,6.3zM731.92,1011.1 h7.4 l-3.7,6.3zM758.17,1011.1 h7.4 l-3.7,6.3zM784.42,1011.1 h7.4 l-3.7,6.3zM810.67,1011.1 h7.4 l-3.7,6.3zM836.92,1011.1 h7.4 l-3.7,6.3z" fill="#888" stroke="#888" stroke-width="1.8" stroke-linejoin="round"/><path d="M810.66,965.6 h7.4 l-3.7,6.3z" fill="#e3262e" stroke="#e3262e" stroke-width="1.8" stroke-linejoin="round"/><circle cx="788.1" cy="922.3" r="1.45" fill="#dcdcdc"/><circle cx="814.35" cy="922.3" r="1.45" fill="#dcdcdc"/><circle cx="840.6" cy="922.3" r="1.45" fill="#dcdcdc"/><circle cx="866.85" cy="922.3" r="1.45" fill="#dcdcdc"/><circle cx="893.1" cy="922.3" r="1.45" fill="#dcdcdc"/><circle cx="774.98" cy="945.05" r="1.45" fill="#dcdcdc"/><circle cx="801.23" cy="945.05" r="1.45" fill="#dcdcdc"/><circle cx="827.48" cy="945.05" r="1.45" fill="#dcdcdc"/><circle cx="853.73" cy="945.05" r="1.45" fill="#dcdcdc"/><circle cx="879.98" cy="945.05" r="1.45" fill="#dcdcdc"/><circle cx="761.86" cy="967.8" r="1.45" fill="#dcdcdc"/><circle cx="788.11" cy="967.8" r="1.45" fill="#dcdcdc"/><circle cx="814.36" cy="967.8" r="1.45" fill="#f29090"/><circle cx="840.61" cy="967.8" r="1.45" fill="#dcdcdc"/><circle cx="866.86" cy="967.8" r="1.45" fill="#dcdcdc"/><circle cx="748.74" cy="990.55" r="1.45" fill="#dcdcdc"/><circle cx="774.99" cy="990.55" r="1.45" fill="#dcdcdc"/><circle cx="801.24" cy="990.55" r="1.45" fill="#dcdcdc"/><circle cx="827.49" cy="990.55" r="1.45" fill="#dcdcdc"/><circle cx="853.74" cy="990.55" r="1.45" fill="#dcdcdc"/><circle cx="735.62" cy="1013.3" r="1.45" fill="#dcdcdc"/><circle cx="761.87" cy="1013.3" r="1.45" fill="#dcdcdc"/><circle cx="788.12" cy="1013.3" r="1.45" fill="#dcdcdc"/><circle cx="814.37" cy="1013.3" r="1.45" fill="#dcdcdc"/><circle cx="840.62" cy="1013.3" r="1.45" fill="#dcdcdc"/></g><rect x="558" y="882.8" width="492.6" height="377.6" fill="none" stroke="#2a2a2a" stroke-width="1.8"/><path d="M558,1260.4 v4 M640.1,1260.4 v4 M722.2,1260.4 v4 M804.3,1260.4 v4 M886.4,1260.4 v4 M968.5,1260.4 v4 M1050.6,1260.4 v4" stroke="#2a2a2a" stroke-width="1.6"/><text x="558" y="1284" text-anchor="middle" font-size="18.8">−3</text><text x="640.1" y="1284" text-anchor="middle" font-size="18.8">−2</text><text x="722.2" y="1284" text-anchor="middle" font-size="18.8">−1</text><text x="804.3" y="1284" text-anchor="middle" font-size="18.8">0</text><text x="886.4" y="1284" text-anchor="middle" font-size="18.8">1</text><text x="968.5" y="1284" text-anchor="middle" font-size="18.8">2</text><text x="1050.6" y="1284" text-anchor="middle" font-size="18.8">3</text><text x="804.3" y="1305.4" text-anchor="middle"><tspan font-style="italic">E</tspan> − <tspan font-style="italic">E</tspan><tspan font-style="italic" font-size="12" dy="4">f</tspan><tspan dy="-4"> (eV)</tspan></text><text transform="translate(548.5,1071.6) rotate(-90)" text-anchor="middle" font-size="18">DOS (a.u.)</text><text x="566" y="1249.6" font-size="18.4">Fe:WS<tspan font-size="13" dy="3">2</tspan><tspan dy="-3"> (isolated)</tspan></text><rect x="954.5" y="889.3" width="88.8" height="45.4" rx="3" fill="#fff" fill-opacity="0.85" stroke="#d6d6d6" stroke-width="1.2"/><path d="M960.5,901.1 h29" stroke="#2020dc" stroke-width="2.4"/><path d="M960.5,921.6 h29" stroke="#f5a040" stroke-width="2.4"/><text x="999.5" y="906.3" font-size="13.5">up</text><text x="999.5" y="926.6" font-size="13.5">down</text><text x="572" y="927.5" font-family="'Liberation Sans', Arial, sans-serif" font-weight="bold" font-size="52" fill="#000" stroke="#000" stroke-width="2.2">j</text></g><g font-family="'DejaVu Sans', sans-serif" font-size="17" fill="#333"><path d="M1096.9,962.5C1097.73,965 1098.57,968.3 1099.4,970C1101.27,973.81 1103.13,978.1 1105,978.1C1107.7,978.1 1110.4,971.9 1113.1,971.9C1114.57,971.9 1116.03,976.66 1117.5,980C1120,985.69 1122.5,1003.75 1125,1003.75C1128.13,1003.75 1131.27,999.77 1134.4,996.25C1137.3,992.99 1140.2,980 1143.1,980C1146.43,980 1149.77,1008.75 1153.1,1008.75C1155.82,1008.75 1158.53,999.4 1161.25,999.4C1163.53,999.4 1165.82,1010.6 1168.1,1010.6C1171.65,1010.6 1175.2,965.6 1178.75,965.6C1181.25,965.6 1183.75,980 1186.25,980C1188.33,980 1190.42,976.9 1192.5,976.9C1196.25,976.9 1200,1019.4 1203.75,1019.4C1207.08,1019.4 1210.42,1001.9 1213.75,1001.9C1218.75,1001.9 1223.75,1026.25 1228.75,1026.25C1230.83,1026.25 1232.92,1023.1 1235,1023.1C1238.75,1023.1 1242.5,1032.21 1246.25,1038.75C1250,1045.29 1253.75,1064.52 1257.5,1065C1261.67,1065.53 1265.83,1065.8 1270,1065.8C1273.53,1065.8 1277.07,1045.6 1280.6,1045.6C1283.32,1045.6 1286.03,1058.97 1288.75,1062.5C1289.83,1063.91 1290.92,1065.8 1292,1065.8C1304,1065.8 1316,1065.8 1328,1065.8C1329.33,1065.8 1330.67,1064.31 1332,1063C1333.43,1061.59 1334.87,1058.71 1336.3,1055.8C1338.73,1050.86 1341.17,1042.58 1343.6,1035.97L1343.6,1066 L1096.9,1066Z" fill="#8080ff"/><path d="M1096.9,1167.5C1097.93,1164.58 1098.97,1160.23 1100,1158.75C1101.87,1156.09 1103.73,1153.75 1105.6,1153.75C1108.1,1153.75 1110.6,1160 1113.1,1160C1114.98,1160 1116.87,1152.34 1118.75,1147.5C1121.03,1141.63 1123.32,1126.25 1125.6,1126.25C1128.32,1126.25 1131.03,1130.35 1133.75,1133.75C1136.87,1137.65 1139.98,1152.5 1143.1,1152.5C1146.87,1152.5 1150.63,1121.25 1154.4,1121.25C1156.9,1121.25 1159.4,1133.75 1161.9,1133.75C1163.97,1133.75 1166.03,1121.25 1168.1,1121.25C1171.65,1121.25 1175.2,1166.9 1178.75,1166.9C1181.25,1166.9 1183.75,1151.25 1186.25,1151.25C1188.53,1151.25 1190.82,1155 1193.1,1155C1196.87,1155 1200.63,1110.6 1204.4,1110.6C1207.52,1110.6 1210.63,1130.6 1213.75,1130.6C1218.33,1130.6 1222.92,1105.6 1227.5,1105.6C1230,1105.6 1232.5,1109.4 1235,1109.4C1239.17,1109.4 1243.33,1099.34 1247.5,1091.25C1250.42,1085.59 1253.33,1067 1256.25,1067C1261.25,1067 1266.25,1067 1271.25,1067C1274.37,1067 1277.48,1086.25 1280.6,1086.25C1283.32,1086.25 1286.03,1068.95 1288.75,1067.5C1289.83,1066.92 1290.92,1066.4 1292,1066.4C1304,1066.4 1316,1066.4 1328,1066.4C1330.77,1066.4 1333.53,1078.22 1336.3,1083.4C1338.73,1087.96 1341.17,1091.82 1343.6,1096.03L1343.6,1066 L1096.9,1066Z" fill="#ffbf80"/><path d="M1096.8,1066 H1589.8" stroke="#8c8c8c" stroke-width="1.8"/><path d="M1096.9,1167.5C1097.93,1164.58 1098.97,1160.23 1100,1158.75C1101.87,1156.09 1103.73,1153.75 1105.6,1153.75C1108.1,1153.75 1110.6,1160 1113.1,1160C1114.98,1160 1116.87,1152.34 1118.75,1147.5C1121.03,1141.63 1123.32,1126.25 1125.6,1126.25C1128.32,1126.25 1131.03,1130.35 1133.75,1133.75C1136.87,1137.65 1139.98,1152.5 1143.1,1152.5C1146.87,1152.5 1150.63,1121.25 1154.4,1121.25C1156.9,1121.25 1159.4,1133.75 1161.9,1133.75C1163.97,1133.75 1166.03,1121.25 1168.1,1121.25C1171.65,1121.25 1175.2,1166.9 1178.75,1166.9C1181.25,1166.9 1183.75,1151.25 1186.25,1151.25C1188.53,1151.25 1190.82,1155 1193.1,1155C1196.87,1155 1200.63,1110.6 1204.4,1110.6C1207.52,1110.6 1210.63,1130.6 1213.75,1130.6C1218.33,1130.6 1222.92,1105.6 1227.5,1105.6C1230,1105.6 1232.5,1109.4 1235,1109.4C1239.17,1109.4 1243.33,1099.34 1247.5,1091.25C1250.42,1085.59 1253.33,1067 1256.25,1067C1261.25,1067 1266.25,1067 1271.25,1067C1274.37,1067 1277.48,1086.25 1280.6,1086.25C1283.32,1086.25 1286.03,1068.95 1288.75,1067.5C1289.83,1066.92 1290.92,1066.4 1292,1066.4C1304,1066.4 1316,1066.4 1328,1066.4C1330.77,1066.4 1333.53,1078.22 1336.3,1083.4C1338.77,1088.02 1341.23,1096.2 1343.7,1096.2C1345.47,1096.2 1347.23,1092.07 1349,1090" fill="none" stroke="#ff9a30" stroke-width="2"/><path d="M1343.7,1096.2C1345.47,1094.13 1347.23,1092.53 1349,1090C1350.77,1087.47 1352.53,1080.2 1354.3,1080.2C1356.07,1080.2 1357.83,1086.6 1359.6,1086.6C1362.6,1086.6 1365.6,1069.6 1368.6,1069.6C1370.2,1069.6 1371.8,1073.38 1373.4,1077C1375.53,1081.83 1377.67,1106.8 1379.8,1106.8C1381.93,1106.8 1384.07,1094.27 1386.2,1091.9C1387.6,1090.35 1389,1090.16 1390.4,1088.7C1392.53,1086.47 1394.67,1077 1396.8,1077C1400.87,1077 1404.93,1108.9 1409,1108.9C1412.7,1108.9 1416.4,1077.8 1420.1,1077.8C1421.57,1077.8 1423.03,1080.94 1424.5,1084.3C1426.8,1089.57 1429.1,1118.65 1431.4,1128.2C1433.17,1135.54 1434.93,1139.56 1436.7,1144.9C1438.97,1151.75 1441.23,1164.6 1443.5,1164.6C1446.8,1164.6 1450.1,1147.2 1453.4,1147.2C1455.9,1147.2 1458.4,1160.63 1460.9,1166.2C1463.43,1171.84 1465.97,1174.26 1468.5,1181.3C1470.27,1186.21 1472.03,1200.3 1473.8,1204.1C1475.57,1207.9 1477.33,1211.7 1479.1,1211.7C1482.67,1211.7 1486.23,1194.2 1489.8,1194.2C1492.3,1194.2 1494.8,1202.6 1497.3,1202.6C1500.33,1202.6 1503.37,1170.53 1506.4,1163.1C1508.7,1157.46 1511,1156.03 1513.3,1151C1515.57,1146.04 1517.83,1131.3 1520.1,1131.3C1522.13,1131.3 1524.17,1137.6 1526.2,1143.4C1528.7,1150.53 1531.2,1183.6 1533.7,1183.6C1536.73,1183.6 1539.77,1155.94 1542.8,1144.9C1544.83,1137.5 1546.87,1125.2 1548.9,1125.2C1552.43,1125.2 1555.97,1144.9 1559.5,1144.9C1562.53,1144.9 1565.57,1138.82 1568.6,1135.8C1572.67,1131.75 1576.73,1128.33 1580.8,1123.7C1583.7,1120.4 1586.6,1116.1 1589.5,1112.3" fill="none" stroke="#f5a040" stroke-width="1.8"/><path d="M1096.9,962.5C1097.73,965 1098.57,968.3 1099.4,970C1101.27,973.81 1103.13,978.1 1105,978.1C1107.7,978.1 1110.4,971.9 1113.1,971.9C1114.57,971.9 1116.03,976.66 1117.5,980C1120,985.69 1122.5,1003.75 1125,1003.75C1128.13,1003.75 1131.27,999.77 1134.4,996.25C1137.3,992.99 1140.2,980 1143.1,980C1146.43,980 1149.77,1008.75 1153.1,1008.75C1155.82,1008.75 1158.53,999.4 1161.25,999.4C1163.53,999.4 1165.82,1010.6 1168.1,1010.6C1171.65,1010.6 1175.2,965.6 1178.75,965.6C1181.25,965.6 1183.75,980 1186.25,980C1188.33,980 1190.42,976.9 1192.5,976.9C1196.25,976.9 1200,1019.4 1203.75,1019.4C1207.08,1019.4 1210.42,1001.9 1213.75,1001.9C1218.75,1001.9 1223.75,1026.25 1228.75,1026.25C1230.83,1026.25 1232.92,1023.1 1235,1023.1C1238.75,1023.1 1242.5,1032.21 1246.25,1038.75C1250,1045.29 1253.75,1064.52 1257.5,1065C1261.67,1065.53 1265.83,1065.8 1270,1065.8C1273.53,1065.8 1277.07,1045.6 1280.6,1045.6C1283.32,1045.6 1286.03,1058.97 1288.75,1062.5C1289.83,1063.91 1290.92,1065.8 1292,1065.8C1304,1065.8 1316,1065.8 1328,1065.8C1329.33,1065.8 1330.67,1064.31 1332,1063C1333.43,1061.59 1334.87,1058.71 1336.3,1055.8C1338.77,1050.79 1341.23,1035.7 1343.7,1035.7C1345.47,1035.7 1347.23,1038.5 1349,1039.9" fill="none" stroke="#1414d8" stroke-width="2.4"/><path d="M1343.7,1035.7C1345.47,1037.1 1347.23,1037.84 1349,1039.9C1350.77,1041.96 1352.53,1051.6 1354.3,1051.6C1356.07,1051.6 1357.83,1045.2 1359.6,1045.2C1362.6,1045.2 1365.6,1062.2 1368.6,1062.2C1370.2,1062.2 1371.8,1059.07 1373.4,1055.8C1375.53,1051.43 1377.67,1024 1379.8,1024C1381.93,1024 1384.07,1035.39 1386.2,1038.8C1387.6,1041.04 1389,1042.11 1390.4,1044.1C1392.53,1047.14 1394.67,1054.8 1396.8,1054.8C1400.87,1054.8 1404.93,1022.9 1409,1022.9C1412.7,1022.9 1416.4,1054.8 1420.1,1054.8C1421.57,1054.8 1423.03,1050.36 1424.5,1045.9C1426.53,1039.71 1428.57,1011.82 1430.6,1003.5C1432.13,997.22 1433.67,994.19 1435.2,989.8C1437.97,981.88 1440.73,967.1 1443.5,967.1C1447.03,967.1 1450.57,983.7 1454.1,983.7C1456.37,983.7 1458.63,970.38 1460.9,965.5C1463.43,960.05 1465.97,957.61 1468.5,951.9C1471.8,944.46 1475.1,920.8 1478.4,920.8C1480.17,920.8 1481.93,922.76 1483.7,924.6C1485.73,926.72 1487.77,936.7 1489.8,936.7C1492.07,936.7 1494.33,930.7 1496.6,930.7C1498.37,930.7 1500.13,936.25 1501.9,941.3C1503.93,947.12 1505.97,967.91 1508,973.1C1509.77,977.61 1511.53,978.54 1513.3,982.2C1515.57,986.9 1517.83,1000.4 1520.1,1000.4C1524.63,1000.4 1529.17,948.1 1533.7,948.1C1536.23,948.1 1538.77,966.48 1541.3,976.2C1543.83,985.92 1546.37,1006.5 1548.9,1006.5C1552.43,1006.5 1555.97,987.5 1559.5,987.5C1562.03,987.5 1564.57,993.16 1567.1,995.9C1571.67,1000.83 1576.23,1004.93 1580.8,1010.3C1583.7,1013.71 1586.6,1017.9 1589.5,1021.7" fill="none" stroke="#2020dc" stroke-width="2.2"/><g><g stroke-width="1.5"><path d="M1303.75,923.1L1310.31,919.3" stroke="#b4b4b4"/><path d="M1310.31,919.3L1316.87,915.5" stroke="#e2e286"/><path d="M1303.75,923.1L1303.75,930.65" stroke="#b4b4b4"/><path d="M1303.75,930.65L1303.75,938.2" stroke="#e2e286"/><path d="M1330,923.1L1336.56,919.3" stroke="#b4b4b4"/><path d="M1336.56,919.3L1343.12,915.5" stroke="#e2e286"/><path d="M1330,923.1L1330,930.65" stroke="#b4b4b4"/><path d="M1330,930.65L1330,938.2" stroke="#e2e286"/><path d="M1330,923.1L1323.43,919.3" stroke="#b4b4b4"/><path d="M1323.43,919.3L1316.87,915.5" stroke="#e2e286"/><path d="M1356.25,923.1L1362.81,919.3" stroke="#b4b4b4"/><path d="M1362.81,919.3L1369.37,915.5" stroke="#e2e286"/><path d="M1356.25,923.1L1356.25,930.65" stroke="#b4b4b4"/><path d="M1356.25,930.65L1356.25,938.2" stroke="#e2e286"/><path d="M1356.25,923.1L1349.68,919.3" stroke="#b4b4b4"/><path d="M1349.68,919.3L1343.12,915.5" stroke="#e2e286"/><path d="M1382.5,923.1L1389.06,919.3" stroke="#b4b4b4"/><path d="M1389.06,919.3L1395.62,915.5" stroke="#e2e286"/><path d="M1382.5,923.1L1382.5,930.65" stroke="#b4b4b4"/><path d="M1382.5,930.65L1382.5,938.2" stroke="#e2e286"/><path d="M1382.5,923.1L1375.93,919.3" stroke="#b4b4b4"/><path d="M1375.93,919.3L1369.37,915.5" stroke="#e2e286"/><path d="M1408.75,923.1L1415.31,919.3" stroke="#b4b4b4"/><path d="M1415.31,919.3L1421.87,915.5" stroke="#e2e286"/><path d="M1408.75,923.1L1408.75,930.65" stroke="#b4b4b4"/><path d="M1408.75,930.65L1408.75,938.2" stroke="#e2e286"/><path d="M1408.75,923.1L1402.18,919.3" stroke="#b4b4b4"/><path d="M1402.18,919.3L1395.62,915.5" stroke="#e2e286"/><path d="M1290.63,945.85L1297.19,942.05" stroke="#b4b4b4"/><path d="M1297.19,942.05L1303.75,938.25" stroke="#e2e286"/><path d="M1290.63,945.85L1290.63,953.4" stroke="#b4b4b4"/><path d="M1290.63,953.4L1290.63,960.95" stroke="#e2e286"/><path d="M1316.88,945.85L1323.44,942.05" stroke="#b4b4b4"/><path d="M1323.44,942.05L1330,938.25" stroke="#e2e286"/><path d="M1316.88,945.85L1316.88,953.4" stroke="#b4b4b4"/><path d="M1316.88,953.4L1316.88,960.95" stroke="#e2e286"/><path d="M1316.88,945.85L1310.32,942.05" stroke="#b4b4b4"/><path d="M1310.32,942.05L1303.75,938.25" stroke="#e2e286"/><path d="M1343.13,945.85L1349.69,942.05" stroke="#b4b4b4"/><path d="M1349.69,942.05L1356.25,938.25" stroke="#e2e286"/><path d="M1343.13,945.85L1343.13,953.4" stroke="#b4b4b4"/><path d="M1343.13,953.4L1343.13,960.95" stroke="#e2e286"/><path d="M1343.13,945.85L1336.57,942.05" stroke="#b4b4b4"/><path d="M1336.57,942.05L1330,938.25" stroke="#e2e286"/><path d="M1369.38,945.85L1375.94,942.05" stroke="#b4b4b4"/><path d="M1375.94,942.05L1382.5,938.25" stroke="#e2e286"/><path d="M1369.38,945.85L1369.38,953.4" stroke="#b4b4b4"/><path d="M1369.38,953.4L1369.38,960.95" stroke="#e2e286"/><path d="M1369.38,945.85L1362.82,942.05" stroke="#b4b4b4"/><path d="M1362.82,942.05L1356.25,938.25" stroke="#e2e286"/><path d="M1395.63,945.85L1402.19,942.05" stroke="#b4b4b4"/><path d="M1402.19,942.05L1408.75,938.25" stroke="#e2e286"/><path d="M1395.63,945.85L1395.63,953.4" stroke="#b4b4b4"/><path d="M1395.63,953.4L1395.63,960.95" stroke="#e2e286"/><path d="M1395.63,945.85L1389.07,942.05" stroke="#b4b4b4"/><path d="M1389.07,942.05L1382.5,938.25" stroke="#e2e286"/><path d="M1277.51,968.6L1284.07,964.8" stroke="#b4b4b4"/><path d="M1284.07,964.8L1290.63,961" stroke="#e2e286"/><path d="M1277.51,968.6L1277.51,976.15" stroke="#b4b4b4"/><path d="M1277.51,976.15L1277.51,983.7" stroke="#e2e286"/><path d="M1303.76,968.6L1310.32,964.8" stroke="#b4b4b4"/><path d="M1310.32,964.8L1316.88,961" stroke="#e2e286"/><path d="M1303.76,968.6L1303.76,976.15" stroke="#b4b4b4"/><path d="M1303.76,976.15L1303.76,983.7" stroke="#e2e286"/><path d="M1303.76,968.6L1297.19,964.8" stroke="#b4b4b4"/><path d="M1297.19,964.8L1290.63,961" stroke="#e2e286"/><path d="M1330.01,968.6L1336.57,964.8" stroke="#b4b4b4"/><path d="M1336.57,964.8L1343.13,961" stroke="#e2e286"/><path d="M1330.01,968.6L1330.01,976.15" stroke="#b4b4b4"/><path d="M1330.01,976.15L1330.01,983.7" stroke="#e2e286"/><path d="M1330.01,968.6L1323.44,964.8" stroke="#b4b4b4"/><path d="M1323.44,964.8L1316.88,961" stroke="#e2e286"/><path d="M1356.26,968.6L1362.82,964.8" stroke="#b4b4b4"/><path d="M1362.82,964.8L1369.38,961" stroke="#e2e286"/><path d="M1356.26,968.6L1356.26,976.15" stroke="#b4b4b4"/><path d="M1356.26,976.15L1356.26,983.7" stroke="#e2e286"/><path d="M1356.26,968.6L1349.69,964.8" stroke="#b4b4b4"/><path d="M1349.69,964.8L1343.13,961" stroke="#e2e286"/><path d="M1382.51,968.6L1389.07,964.8" stroke="#b4b4b4"/><path d="M1389.07,964.8L1395.63,961" stroke="#e2e286"/><path d="M1382.51,968.6L1382.51,976.15" stroke="#b4b4b4"/><path d="M1382.51,976.15L1382.51,983.7" stroke="#e2e286"/><path d="M1382.51,968.6L1375.94,964.8" stroke="#b4b4b4"/><path d="M1375.94,964.8L1369.38,961" stroke="#e2e286"/><path d="M1264.39,991.35L1270.95,987.55" stroke="#b4b4b4"/><path d="M1270.95,987.55L1277.51,983.75" stroke="#e2e286"/><path d="M1264.39,991.35L1264.39,998.9" stroke="#b4b4b4"/><path d="M1264.39,998.9L1264.39,1006.45" stroke="#e2e286"/><path d="M1290.64,991.35L1297.2,987.55" stroke="#b4b4b4"/><path d="M1297.2,987.55L1303.76,983.75" stroke="#e2e286"/><path d="M1290.64,991.35L1290.64,998.9" stroke="#b4b4b4"/><path d="M1290.64,998.9L1290.64,1006.45" stroke="#e2e286"/><path d="M1290.64,991.35L1284.08,987.55" stroke="#b4b4b4"/><path d="M1284.08,987.55L1277.51,983.75" stroke="#e2e286"/><path d="M1316.89,991.35L1323.45,987.55" stroke="#b4b4b4"/><path d="M1323.45,987.55L1330.01,983.75" stroke="#e2e286"/><path d="M1316.89,991.35L1316.89,998.9" stroke="#b4b4b4"/><path d="M1316.89,998.9L1316.89,1006.45" stroke="#e2e286"/><path d="M1316.89,991.35L1310.33,987.55" stroke="#b4b4b4"/><path d="M1310.33,987.55L1303.76,983.75" stroke="#e2e286"/><path d="M1343.14,991.35L1349.7,987.55" stroke="#b4b4b4"/><path d="M1349.7,987.55L1356.26,983.75" stroke="#e2e286"/><path d="M1343.14,991.35L1343.14,998.9" stroke="#b4b4b4"/><path d="M1343.14,998.9L1343.14,1006.45" stroke="#e2e286"/><path d="M1343.14,991.35L1336.58,987.55" stroke="#b4b4b4"/><path d="M1336.58,987.55L1330.01,983.75" stroke="#e2e286"/><path d="M1369.39,991.35L1375.95,987.55" stroke="#b4b4b4"/><path d="M1375.95,987.55L1382.51,983.75" stroke="#e2e286"/><path d="M1369.39,991.35L1369.39,998.9" stroke="#b4b4b4"/><path d="M1369.39,998.9L1369.39,1006.45" stroke="#e2e286"/><path d="M1369.39,991.35L1362.83,987.55" stroke="#b4b4b4"/><path d="M1362.83,987.55L1356.26,983.75" stroke="#e2e286"/><path d="M1251.27,1014.1L1257.83,1010.3" stroke="#b4b4b4"/><path d="M1257.83,1010.3L1264.39,1006.5" stroke="#e2e286"/><path d="M1277.52,1014.1L1284.08,1010.3" stroke="#b4b4b4"/><path d="M1284.08,1010.3L1290.64,1006.5" stroke="#e2e286"/><path d="M1277.52,1014.1L1270.95,1010.3" stroke="#b4b4b4"/><path d="M1270.95,1010.3L1264.39,1006.5" stroke="#e2e286"/><path d="M1303.77,1014.1L1310.33,1010.3" stroke="#b4b4b4"/><path d="M1310.33,1010.3L1316.89,1006.5" stroke="#e2e286"/><path d="M1303.77,1014.1L1297.2,1010.3" stroke="#b4b4b4"/><path d="M1297.2,1010.3L1290.64,1006.5" stroke="#e2e286"/><path d="M1330.02,1014.1L1336.58,1010.3" stroke="#b4b4b4"/><path d="M1336.58,1010.3L1343.14,1006.5" stroke="#e2e286"/><path d="M1330.02,1014.1L1323.45,1010.3" stroke="#b4b4b4"/><path d="M1323.45,1010.3L1316.89,1006.5" stroke="#e2e286"/><path d="M1356.27,1014.1L1362.83,1010.3" stroke="#b4b4b4"/><path d="M1362.83,1010.3L1369.39,1006.5" stroke="#e2e286"/><path d="M1356.27,1014.1L1349.7,1010.3" stroke="#b4b4b4"/><path d="M1349.7,1010.3L1343.14,1006.5" stroke="#e2e286"/></g><path d="M1343.14,1003.3 l3.3,5.6 h-6.6zM1369.38,957.8 l3.3,5.6 h-6.6zM1330,935 l3.3,5.6 h-6.6zM1382.5,935.05 l3.3,5.6 h-6.6zM1316.89,1003.3 l3.3,5.6 h-6.6zM1343.14,1003.25 l3.3,5.6 h-6.6zM1264.39,1003.3 l3.3,5.6 h-6.6zM1343.12,912.3 l3.3,5.6 h-6.6zM1277.51,980.55 l3.3,5.6 h-6.6zM1264.39,1003.25 l3.3,5.6 h-6.6zM1382.5,935 l3.3,5.6 h-6.6zM1316.88,957.75 l3.3,5.6 h-6.6zM1316.89,1003.25 l3.3,5.6 h-6.6zM1290.63,957.8 l3.3,5.6 h-6.6zM1277.51,980.5 l3.3,5.6 h-6.6zM1395.62,912.3 l3.3,5.6 h-6.6zM1303.75,935.05 l3.3,5.6 h-6.6zM1316.87,912.3 l3.3,5.6 h-6.6zM1330.01,980.55 l3.3,5.6 h-6.6zM1356.25,935.05 l3.3,5.6 h-6.6zM1303.75,935 l3.3,5.6 h-6.6zM1369.38,957.75 l3.3,5.6 h-6.6zM1369.39,1003.3 l3.3,5.6 h-6.6zM1343.13,957.8 l3.3,5.6 h-6.6zM1330.01,980.5 l3.3,5.6 h-6.6zM1395.63,957.8 l3.3,5.6 h-6.6zM1356.25,935 l3.3,5.6 h-6.6zM1382.51,980.55 l3.3,5.6 h-6.6zM1408.75,935.05 l3.3,5.6 h-6.6zM1369.39,1003.25 l3.3,5.6 h-6.6zM1290.64,1003.3 l3.3,5.6 h-6.6zM1369.37,912.3 l3.3,5.6 h-6.6zM1382.51,980.5 l3.3,5.6 h-6.6zM1303.76,980.55 l3.3,5.6 h-6.6zM1408.75,935 l3.3,5.6 h-6.6zM1290.64,1003.25 l3.3,5.6 h-6.6zM1290.63,957.75 l3.3,5.6 h-6.6zM1303.76,980.5 l3.3,5.6 h-6.6zM1421.87,912.3 l3.3,5.6 h-6.6zM1316.88,957.8 l3.3,5.6 h-6.6zM1356.26,980.55 l3.3,5.6 h-6.6zM1330,935.05 l3.3,5.6 h-6.6zM1343.13,957.75 l3.3,5.6 h-6.6zM1356.26,980.5 l3.3,5.6 h-6.6zM1395.63,957.75 l3.3,5.6 h-6.6z" fill="#d4d44c" stroke="#d4d44c" stroke-width="1.4" stroke-linejoin="round"/><path d="M1300.05,920.7 h7.4 l-3.7,6.3zM1326.3,920.7 h7.4 l-3.7,6.3zM1352.55,920.7 h7.4 l-3.7,6.3zM1378.8,920.7 h7.4 l-3.7,6.3zM1405.05,920.7 h7.4 l-3.7,6.3zM1286.93,943.45 h7.4 l-3.7,6.3zM1313.18,943.45 h7.4 l-3.7,6.3zM1339.43,943.45 h7.4 l-3.7,6.3zM1365.68,943.45 h7.4 l-3.7,6.3zM1391.93,943.45 h7.4 l-3.7,6.3zM1273.81,966.2 h7.4 l-3.7,6.3zM1300.06,966.2 h7.4 l-3.7,6.3zM1378.81,966.2 h7.4 l-3.7,6.3zM1260.69,988.95 h7.4 l-3.7,6.3zM1286.94,988.95 h7.4 l-3.7,6.3zM1313.19,988.95 h7.4 l-3.7,6.3zM1339.44,988.95 h7.4 l-3.7,6.3zM1365.69,988.95 h7.4 l-3.7,6.3zM1247.57,1011.7 h7.4 l-3.7,6.3zM1273.82,1011.7 h7.4 l-3.7,6.3zM1300.07,1011.7 h7.4 l-3.7,6.3zM1326.32,1011.7 h7.4 l-3.7,6.3zM1352.57,1011.7 h7.4 l-3.7,6.3z" fill="#888" stroke="#888" stroke-width="1.8" stroke-linejoin="round"/><path d="M1326.31,966.2 h7.4 l-3.7,6.3zM1352.56,966.2 h7.4 l-3.7,6.3z" fill="#e3262e" stroke="#e3262e" stroke-width="1.8" stroke-linejoin="round"/><circle cx="1303.75" cy="922.9" r="1.45" fill="#dcdcdc"/><circle cx="1330" cy="922.9" r="1.45" fill="#dcdcdc"/><circle cx="1356.25" cy="922.9" r="1.45" fill="#dcdcdc"/><circle cx="1382.5" cy="922.9" r="1.45" fill="#dcdcdc"/><circle cx="1408.75" cy="922.9" r="1.45" fill="#dcdcdc"/><circle cx="1290.63" cy="945.65" r="1.45" fill="#dcdcdc"/><circle cx="1316.88" cy="945.65" r="1.45" fill="#dcdcdc"/><circle cx="1343.13" cy="945.65" r="1.45" fill="#dcdcdc"/><circle cx="1369.38" cy="945.65" r="1.45" fill="#dcdcdc"/><circle cx="1395.63" cy="945.65" r="1.45" fill="#dcdcdc"/><circle cx="1277.51" cy="968.4" r="1.45" fill="#dcdcdc"/><circle cx="1303.76" cy="968.4" r="1.45" fill="#dcdcdc"/><circle cx="1330.01" cy="968.4" r="1.45" fill="#f29090"/><circle cx="1356.26" cy="968.4" r="1.45" fill="#f29090"/><circle cx="1382.51" cy="968.4" r="1.45" fill="#dcdcdc"/><circle cx="1264.39" cy="991.15" r="1.45" fill="#dcdcdc"/><circle cx="1290.64" cy="991.15" r="1.45" fill="#dcdcdc"/><circle cx="1316.89" cy="991.15" r="1.45" fill="#dcdcdc"/><circle cx="1343.14" cy="991.15" r="1.45" fill="#dcdcdc"/><circle cx="1369.39" cy="991.15" r="1.45" fill="#dcdcdc"/><circle cx="1251.27" cy="1013.9" r="1.45" fill="#dcdcdc"/><circle cx="1277.52" cy="1013.9" r="1.45" fill="#dcdcdc"/><circle cx="1303.77" cy="1013.9" r="1.45" fill="#dcdcdc"/><circle cx="1330.02" cy="1013.9" r="1.45" fill="#dcdcdc"/><circle cx="1356.27" cy="1013.9" r="1.45" fill="#dcdcdc"/></g><rect x="1096.8" y="876.8" width="493" height="377.5" fill="none" stroke="#2a2a2a" stroke-width="1.8"/><path d="M1096.8,1254.3 v4 M1178.97,1254.3 v4 M1261.13,1254.3 v4 M1343.3,1254.3 v4 M1425.47,1254.3 v4 M1507.63,1254.3 v4 M1589.8,1254.3 v4" stroke="#2a2a2a" stroke-width="1.6"/><text x="1096.8" y="1277.9" text-anchor="middle" font-size="18.8">−3</text><text x="1178.97" y="1277.9" text-anchor="middle" font-size="18.8">−2</text><text x="1261.13" y="1277.9" text-anchor="middle" font-size="18.8">−1</text><text x="1343.3" y="1277.9" text-anchor="middle" font-size="18.8">0</text><text x="1425.47" y="1277.9" text-anchor="middle" font-size="18.8">1</text><text x="1507.63" y="1277.9" text-anchor="middle" font-size="18.8">2</text><text x="1589.8" y="1277.9" text-anchor="middle" font-size="18.8">3</text><text x="1343.3" y="1299.3" text-anchor="middle"><tspan font-style="italic">E</tspan> − <tspan font-style="italic">E</tspan><tspan font-style="italic" font-size="12" dy="4">f</tspan><tspan dy="-4"> (eV)</tspan></text><text transform="translate(1087.3,1065.55) rotate(-90)" text-anchor="middle" font-size="18">DOS (a.u.)</text><text x="1104.8" y="1243.5" font-size="18.4">Fe:WS<tspan font-size="13" dy="3">2</tspan><tspan dy="-3"> (paired)</tspan></text><rect x="1495.1" y="884.4" width="87.9" height="44" rx="3" fill="#fff" fill-opacity="0.85" stroke="#d6d6d6" stroke-width="1.2"/><path d="M1501.1,896.2 h29" stroke="#2020dc" stroke-width="2.4"/><path d="M1501.1,916.7 h29" stroke="#f5a040" stroke-width="2.4"/><text x="1540.1" y="901.4" font-size="13.5">up</text><text x="1540.1" y="921.7" font-size="13.5">down</text><text x="1117.5" y="933" font-family="'Liberation Sans', Arial, sans-serif" font-weight="bold" font-size="52" fill="#000">k</text></g></svg></body></html>
